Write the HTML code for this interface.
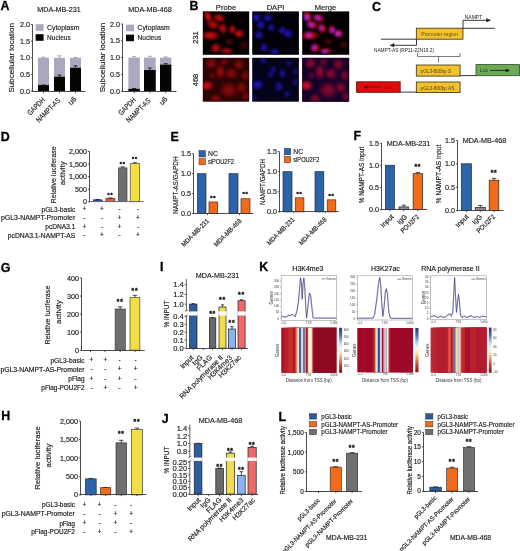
<!DOCTYPE html>
<html><head><meta charset="utf-8"><title>Figure</title>
<style>html,body{margin:0;padding:0;background:#fff;} svg{display:block;}</style></head>
<body><svg width="520" height="551" viewBox="0 0 520 551" font-family="'Liberation Sans', Arial, sans-serif"><text x="0.6" y="10.2" font-size="12.4" font-weight="bold" fill="#000" stroke="#000" stroke-width="0.3">A</text>
<text x="59" y="12" font-size="7.2" text-anchor="middle" fill="#222" stroke="#222" stroke-width="0.16">MDA-MB-231</text>
<rect x="38" y="57.8" width="11" height="33.2" fill="#aaa7be"/>
<rect x="38" y="85.02" width="11" height="5.98" fill="#050505"/>
<line x1="43.5" y1="57.8" x2="43.5" y2="57.14" stroke="#888" stroke-width="0.7"/>
<line x1="41.5" y1="57.14" x2="45.5" y2="57.14" stroke="#888" stroke-width="0.7"/>
<line x1="43.5" y1="85.02" x2="43.5" y2="85.02" stroke="#111" stroke-width="0.8"/>
<line x1="41.5" y1="85.02" x2="45.5" y2="85.02" stroke="#111" stroke-width="0.8"/>
<rect x="54" y="57.8" width="11" height="33.2" fill="#aaa7be"/>
<rect x="54" y="76.72" width="11" height="14.28" fill="#050505"/>
<line x1="59.5" y1="57.8" x2="59.5" y2="55.81" stroke="#888" stroke-width="0.7"/>
<line x1="57.5" y1="55.81" x2="61.5" y2="55.81" stroke="#888" stroke-width="0.7"/>
<line x1="59.5" y1="76.72" x2="59.5" y2="75.06" stroke="#111" stroke-width="0.8"/>
<line x1="57.5" y1="75.06" x2="61.5" y2="75.06" stroke="#111" stroke-width="0.8"/>
<rect x="70" y="57.8" width="11" height="33.2" fill="#aaa7be"/>
<rect x="70" y="67.76" width="11" height="23.24" fill="#050505"/>
<line x1="75.5" y1="57.8" x2="75.5" y2="57.47" stroke="#888" stroke-width="0.7"/>
<line x1="73.5" y1="57.47" x2="77.5" y2="57.47" stroke="#888" stroke-width="0.7"/>
<line x1="75.5" y1="67.76" x2="75.5" y2="65.77" stroke="#111" stroke-width="0.8"/>
<line x1="73.5" y1="65.77" x2="77.5" y2="65.77" stroke="#111" stroke-width="0.8"/>
<line x1="32.5" y1="24.6" x2="32.5" y2="91.45" stroke="#3a3a3a" stroke-width="0.9"/>
<line x1="30.9" y1="24.6" x2="32.5" y2="24.6" stroke="#3a3a3a" stroke-width="0.9"/>
<text x="29.9" y="27.19" font-size="7.2" text-anchor="end" fill="#222" stroke="#222" stroke-width="0.16">2.0</text>
<line x1="30.9" y1="41.2" x2="32.5" y2="41.2" stroke="#3a3a3a" stroke-width="0.9"/>
<text x="29.9" y="43.79" font-size="7.2" text-anchor="end" fill="#222" stroke="#222" stroke-width="0.16">1.5</text>
<line x1="30.9" y1="57.8" x2="32.5" y2="57.8" stroke="#3a3a3a" stroke-width="0.9"/>
<text x="29.9" y="60.39" font-size="7.2" text-anchor="end" fill="#222" stroke="#222" stroke-width="0.16">1.0</text>
<line x1="30.9" y1="74.4" x2="32.5" y2="74.4" stroke="#3a3a3a" stroke-width="0.9"/>
<text x="29.9" y="76.99" font-size="7.2" text-anchor="end" fill="#222" stroke="#222" stroke-width="0.16">0.5</text>
<line x1="30.9" y1="91" x2="32.5" y2="91" stroke="#3a3a3a" stroke-width="0.9"/>
<text x="29.9" y="93.59" font-size="7.2" text-anchor="end" fill="#222" stroke="#222" stroke-width="0.16">0.0</text>
<line x1="32.05" y1="91.5" x2="85.6" y2="91.5" stroke="#3a3a3a" stroke-width="0.9"/>
<line x1="43.5" y1="91.5" x2="43.5" y2="93.1" stroke="#3a3a3a" stroke-width="0.9"/>
<line x1="59.5" y1="91.5" x2="59.5" y2="93.1" stroke="#3a3a3a" stroke-width="0.9"/>
<line x1="75.5" y1="91.5" x2="75.5" y2="93.1" stroke="#3a3a3a" stroke-width="0.9"/>
<rect x="35.6" y="24.2" width="8" height="6.6" fill="#aaa7be"/>
<rect x="35.6" y="34.2" width="8" height="6.6" fill="#050505"/>
<text x="47.1" y="29.8" font-size="7.4" fill="#222" stroke="#222" stroke-width="0.16" textLength="32.3" lengthAdjust="spacingAndGlyphs">Cytoplasm</text>
<text x="47.1" y="39.8" font-size="7.4" fill="#222" stroke="#222" stroke-width="0.16" textLength="23.7" lengthAdjust="spacingAndGlyphs">Nucleus</text>
<text x="14.5" y="57.8" font-size="8" text-anchor="middle" fill="#222" stroke="#222" stroke-width="0.16" transform="rotate(-90 14.5 57.8)">Subcellular location</text>
<text x="45.5" y="100.5" font-size="7.4" text-anchor="end" fill="#222" stroke="#222" stroke-width="0.16" transform="rotate(-45 45.5 100.5)" textLength="21.5" lengthAdjust="spacingAndGlyphs">GAPDH</text>
<text x="60.8" y="101" font-size="7.4" text-anchor="end" fill="#222" stroke="#222" stroke-width="0.16" transform="rotate(-45 60.8 101)" textLength="31" lengthAdjust="spacingAndGlyphs">NAMPT-AS</text>
<text x="76.8" y="99.6" font-size="7.4" text-anchor="end" fill="#222" stroke="#222" stroke-width="0.16" transform="rotate(-45 76.8 99.6)">u6</text>
<text x="150" y="12" font-size="7.2" text-anchor="middle" fill="#222" stroke="#222" stroke-width="0.16">MDA-MB-468</text>
<rect x="128.4" y="57.6" width="11.4" height="33.6" fill="#aaa7be"/>
<rect x="128.4" y="88.85" width="11.4" height="2.35" fill="#050505"/>
<line x1="134.1" y1="57.6" x2="134.1" y2="56.59" stroke="#888" stroke-width="0.7"/>
<line x1="132.1" y1="56.59" x2="136.1" y2="56.59" stroke="#888" stroke-width="0.7"/>
<line x1="134.1" y1="88.85" x2="134.1" y2="88.51" stroke="#111" stroke-width="0.8"/>
<line x1="132.1" y1="88.51" x2="136.1" y2="88.51" stroke="#111" stroke-width="0.8"/>
<rect x="144" y="57.6" width="11.7" height="33.6" fill="#aaa7be"/>
<rect x="144" y="70.03" width="11.7" height="21.17" fill="#050505"/>
<line x1="149.85" y1="57.6" x2="149.85" y2="56.26" stroke="#888" stroke-width="0.7"/>
<line x1="147.85" y1="56.26" x2="151.85" y2="56.26" stroke="#888" stroke-width="0.7"/>
<line x1="149.85" y1="70.03" x2="149.85" y2="68.02" stroke="#111" stroke-width="0.8"/>
<line x1="147.85" y1="68.02" x2="151.85" y2="68.02" stroke="#111" stroke-width="0.8"/>
<rect x="160" y="57.6" width="11.3" height="33.6" fill="#aaa7be"/>
<rect x="160" y="64.66" width="11.3" height="26.54" fill="#050505"/>
<line x1="165.65" y1="57.6" x2="165.65" y2="56.93" stroke="#888" stroke-width="0.7"/>
<line x1="163.65" y1="56.93" x2="167.65" y2="56.93" stroke="#888" stroke-width="0.7"/>
<line x1="165.65" y1="64.66" x2="165.65" y2="63.65" stroke="#111" stroke-width="0.8"/>
<line x1="163.65" y1="63.65" x2="167.65" y2="63.65" stroke="#111" stroke-width="0.8"/>
<line x1="122.5" y1="24" x2="122.5" y2="91.65" stroke="#3a3a3a" stroke-width="0.9"/>
<line x1="120.9" y1="24" x2="122.5" y2="24" stroke="#3a3a3a" stroke-width="0.9"/>
<text x="119.9" y="26.59" font-size="7.2" text-anchor="end" fill="#222" stroke="#222" stroke-width="0.16">2.0</text>
<line x1="120.9" y1="40.8" x2="122.5" y2="40.8" stroke="#3a3a3a" stroke-width="0.9"/>
<text x="119.9" y="43.39" font-size="7.2" text-anchor="end" fill="#222" stroke="#222" stroke-width="0.16">1.5</text>
<line x1="120.9" y1="57.6" x2="122.5" y2="57.6" stroke="#3a3a3a" stroke-width="0.9"/>
<text x="119.9" y="60.19" font-size="7.2" text-anchor="end" fill="#222" stroke="#222" stroke-width="0.16">1.0</text>
<line x1="120.9" y1="74.4" x2="122.5" y2="74.4" stroke="#3a3a3a" stroke-width="0.9"/>
<text x="119.9" y="76.99" font-size="7.2" text-anchor="end" fill="#222" stroke="#222" stroke-width="0.16">0.5</text>
<line x1="120.9" y1="91.2" x2="122.5" y2="91.2" stroke="#3a3a3a" stroke-width="0.9"/>
<text x="119.9" y="93.79" font-size="7.2" text-anchor="end" fill="#222" stroke="#222" stroke-width="0.16">0.0</text>
<line x1="122.05" y1="91.5" x2="176.5" y2="91.5" stroke="#3a3a3a" stroke-width="0.9"/>
<line x1="134.1" y1="91.5" x2="134.1" y2="93.1" stroke="#3a3a3a" stroke-width="0.9"/>
<line x1="149.85" y1="91.5" x2="149.85" y2="93.1" stroke="#3a3a3a" stroke-width="0.9"/>
<line x1="165.65" y1="91.5" x2="165.65" y2="93.1" stroke="#3a3a3a" stroke-width="0.9"/>
<rect x="126" y="24.6" width="8" height="6.6" fill="#aaa7be"/>
<rect x="126" y="34.6" width="8" height="6.6" fill="#050505"/>
<text x="137.5" y="30.2" font-size="7.4" fill="#222" stroke="#222" stroke-width="0.16" textLength="32.3" lengthAdjust="spacingAndGlyphs">Cytoplasm</text>
<text x="137.5" y="40.2" font-size="7.4" fill="#222" stroke="#222" stroke-width="0.16" textLength="23.7" lengthAdjust="spacingAndGlyphs">Nucleus</text>
<text x="105" y="57.6" font-size="8" text-anchor="middle" fill="#222" stroke="#222" stroke-width="0.16" transform="rotate(-90 105 57.6)">Subcellular location</text>
<text x="136.4" y="100.5" font-size="7.4" text-anchor="end" fill="#222" stroke="#222" stroke-width="0.16" transform="rotate(-45 136.4 100.5)" textLength="21.5" lengthAdjust="spacingAndGlyphs">GAPDH</text>
<text x="151" y="101.2" font-size="7.4" text-anchor="end" fill="#222" stroke="#222" stroke-width="0.16" transform="rotate(-45 151 101.2)" textLength="31" lengthAdjust="spacingAndGlyphs">NAMPT-AS</text>
<text x="168" y="99.6" font-size="7.4" text-anchor="end" fill="#222" stroke="#222" stroke-width="0.16" transform="rotate(-45 168 99.6)">u6</text>
<text x="189.4" y="10.4" font-size="12.4" font-weight="bold" fill="#000" stroke="#000" stroke-width="0.3">B</text>
<text x="226" y="9.6" font-size="7.6" text-anchor="middle" fill="#222" stroke="#222" stroke-width="0.16">Probe</text>
<text x="275.5" y="9.6" font-size="7.6" text-anchor="middle" fill="#222" stroke="#222" stroke-width="0.16">DAPI</text>
<text x="325.5" y="9.6" font-size="7.6" text-anchor="middle" fill="#222" stroke="#222" stroke-width="0.16">Merge</text>
<text x="198.2" y="37.5" font-size="7.6" text-anchor="middle" fill="#222" stroke="#222" stroke-width="0.16" transform="rotate(-90 198.2 37.5)">231</text>
<text x="198.2" y="80" font-size="7.6" text-anchor="middle" fill="#222" stroke="#222" stroke-width="0.16" transform="rotate(-90 198.2 80)">468</text>
<defs>
<radialGradient id="gR"><stop offset="0" stop-color="rgb(205,18,18)" stop-opacity="1"/><stop offset="0.45" stop-color="rgb(175,10,12)" stop-opacity="0.8"/><stop offset="1" stop-color="rgb(110,0,0)" stop-opacity="0"/></radialGradient>
<radialGradient id="gB"><stop offset="0" stop-color="rgb(38,28,195)" stop-opacity="1"/><stop offset="0.45" stop-color="rgb(28,18,165)" stop-opacity="0.75"/><stop offset="1" stop-color="rgb(10,0,100)" stop-opacity="0"/></radialGradient>
<clipPath id="cB0"><rect x="202.8" y="11.4" width="46.4" height="43.4"/></clipPath>
<clipPath id="cB1"><rect x="202.8" y="57.8" width="46.4" height="43.9"/></clipPath>
</defs>
<rect x="202.8" y="11.4" width="46.4" height="43.4" fill="#050000"/>
<g clip-path="url(#cB0)"><ellipse cx="208" cy="16.5" rx="5.04" ry="9" fill="url(#gR)" opacity="1.0" transform="rotate(-20 208 16.5)"/><ellipse cx="219" cy="18" rx="8.1" ry="5.4" fill="url(#gR)" opacity="0.9" transform="rotate(15 219 18)"/><ellipse cx="213" cy="24.8" rx="8.1" ry="5.76" fill="url(#gR)" opacity="0.9" transform="rotate(10 213 24.8)"/><ellipse cx="222.8" cy="28.5" rx="5.76" ry="7.2" fill="url(#gR)" opacity="0.85" transform="rotate(-20 222.8 28.5)"/><ellipse cx="210.3" cy="35.5" rx="11.7" ry="5.94" fill="url(#gR)" opacity="1.0"/><ellipse cx="232.5" cy="29.5" rx="5.04" ry="6.12" fill="url(#gR)" opacity="0.85"/><ellipse cx="239" cy="33.6" rx="6.12" ry="5.4" fill="url(#gR)" opacity="1.0"/><ellipse cx="215.8" cy="48" rx="6.84" ry="6.12" fill="url(#gR)" opacity="0.9" transform="rotate(-30 215.8 48)"/><ellipse cx="226.5" cy="50.7" rx="8.1" ry="4.5" fill="url(#gR)" opacity="0.8"/><ellipse cx="228.8" cy="41.5" rx="5.4" ry="4.5" fill="url(#gR)" opacity="0.35"/><ellipse cx="244" cy="45" rx="5.4" ry="5.4" fill="url(#gR)" opacity="0.3"/></g>
<rect x="252.2" y="11.4" width="46.7" height="43.4" fill="#020008"/>
<g clip-path="url(#cB0)" transform="translate(49.4 0)"><ellipse cx="206.8" cy="17.5" rx="6.65" ry="6.12" fill="url(#gB)" opacity="0.9"/><ellipse cx="218.3" cy="17.9" rx="7.35" ry="5.25" fill="url(#gB)" opacity="0.85"/><ellipse cx="211.4" cy="24.9" rx="6.65" ry="6.12" fill="url(#gB)" opacity="0.85"/><ellipse cx="222" cy="27.6" rx="5.6" ry="5.6" fill="url(#gB)" opacity="0.75"/><ellipse cx="233.1" cy="30.4" rx="5.95" ry="5.6" fill="url(#gB)" opacity="0.85"/><ellipse cx="238.6" cy="33.6" rx="6.65" ry="5.95" fill="url(#gB)" opacity="0.9"/><ellipse cx="209.5" cy="35" rx="6.65" ry="6.3" fill="url(#gB)" opacity="0.8"/><ellipse cx="214.6" cy="47.5" rx="5.6" ry="6.3" fill="url(#gB)" opacity="0.85"/><ellipse cx="225.2" cy="51.6" rx="7.35" ry="4.55" fill="url(#gB)" opacity="0.8"/></g>
<rect x="302.2" y="11.4" width="47" height="43.4" fill="#050000"/>
<g clip-path="url(#cB0)" transform="translate(99.4 0)" style="isolation:isolate"><ellipse cx="208" cy="16.5" rx="5.04" ry="9" fill="url(#gR)" opacity="1.0" transform="rotate(-20 208 16.5)"/><ellipse cx="219" cy="18" rx="8.1" ry="5.4" fill="url(#gR)" opacity="0.9" transform="rotate(15 219 18)"/><ellipse cx="213" cy="24.8" rx="8.1" ry="5.76" fill="url(#gR)" opacity="0.9" transform="rotate(10 213 24.8)"/><ellipse cx="222.8" cy="28.5" rx="5.76" ry="7.2" fill="url(#gR)" opacity="0.85" transform="rotate(-20 222.8 28.5)"/><ellipse cx="210.3" cy="35.5" rx="11.7" ry="5.94" fill="url(#gR)" opacity="1.0"/><ellipse cx="232.5" cy="29.5" rx="5.04" ry="6.12" fill="url(#gR)" opacity="0.85"/><ellipse cx="239" cy="33.6" rx="6.12" ry="5.4" fill="url(#gR)" opacity="1.0"/><ellipse cx="215.8" cy="48" rx="6.84" ry="6.12" fill="url(#gR)" opacity="0.9" transform="rotate(-30 215.8 48)"/><ellipse cx="226.5" cy="50.7" rx="8.1" ry="4.5" fill="url(#gR)" opacity="0.8"/><ellipse cx="228.8" cy="41.5" rx="5.4" ry="4.5" fill="url(#gR)" opacity="0.35"/><ellipse cx="244" cy="45" rx="5.4" ry="5.4" fill="url(#gR)" opacity="0.3"/><g style="mix-blend-mode:screen"><ellipse cx="206.8" cy="17.5" rx="5.98" ry="5.51" fill="url(#gB)" opacity="0.9"/><ellipse cx="218.3" cy="17.9" rx="6.62" ry="4.72" fill="url(#gB)" opacity="0.85"/><ellipse cx="211.4" cy="24.9" rx="5.98" ry="5.51" fill="url(#gB)" opacity="0.85"/><ellipse cx="222" cy="27.6" rx="5.04" ry="5.04" fill="url(#gB)" opacity="0.75"/><ellipse cx="233.1" cy="30.4" rx="5.35" ry="5.04" fill="url(#gB)" opacity="0.85"/><ellipse cx="238.6" cy="33.6" rx="5.98" ry="5.35" fill="url(#gB)" opacity="0.9"/><ellipse cx="209.5" cy="35" rx="5.98" ry="5.67" fill="url(#gB)" opacity="0.8"/><ellipse cx="214.6" cy="47.5" rx="5.04" ry="5.67" fill="url(#gB)" opacity="0.85"/><ellipse cx="225.2" cy="51.6" rx="6.62" ry="4.09" fill="url(#gB)" opacity="0.8"/></g></g>
<rect x="202.8" y="57.8" width="46.4" height="43.9" fill="#2a0303"/>
<g clip-path="url(#cB1)"><ellipse cx="211.2" cy="63.5" rx="7.25" ry="7.25" fill="url(#gR)" opacity="0.6"/><ellipse cx="220.5" cy="71.8" rx="6.52" ry="9.42" fill="url(#gR)" opacity="0.65"/><ellipse cx="231.5" cy="73.6" rx="7.97" ry="7.25" fill="url(#gR)" opacity="0.6"/><ellipse cx="239" cy="64.4" rx="7.25" ry="7.25" fill="url(#gR)" opacity="0.55"/><ellipse cx="245.4" cy="75.5" rx="5.8" ry="7.25" fill="url(#gR)" opacity="0.5"/><ellipse cx="207" cy="85.6" rx="7.97" ry="6.52" fill="url(#gR)" opacity="1.0"/><ellipse cx="228.8" cy="90.2" rx="11.6" ry="10.15" fill="url(#gR)" opacity="0.6"/><ellipse cx="215.8" cy="98.5" rx="7.25" ry="5.8" fill="url(#gR)" opacity="0.55"/><ellipse cx="241.7" cy="87.5" rx="7.25" ry="7.25" fill="url(#gR)" opacity="0.55"/><ellipse cx="212.2" cy="75.5" rx="5.08" ry="5.08" fill="url(#gR)" opacity="0.35"/><ellipse cx="224" cy="62" rx="5.8" ry="4.35" fill="url(#gR)" opacity="0.45"/><ellipse cx="246" cy="96" rx="5.8" ry="5.8" fill="url(#gR)" opacity="0.45"/></g>
<rect x="252.2" y="57.8" width="46.7" height="43.9" fill="#05031a"/>
<g clip-path="url(#cB1)" transform="translate(49.4 0)"><ellipse cx="214.1" cy="60.7" rx="5.25" ry="4.5" fill="url(#gB)" opacity="0.6"/><ellipse cx="223.8" cy="69.9" rx="4.5" ry="5.25" fill="url(#gB)" opacity="0.6"/><ellipse cx="221.1" cy="74.5" rx="4.8" ry="4.8" fill="url(#gB)" opacity="0.55"/><ellipse cx="233.1" cy="73.6" rx="4.8" ry="6.3" fill="url(#gB)" opacity="0.7"/><ellipse cx="239.6" cy="63.5" rx="5.25" ry="4.5" fill="url(#gB)" opacity="0.5"/><ellipse cx="246" cy="71.8" rx="4.8" ry="4.8" fill="url(#gB)" opacity="0.5"/><ellipse cx="208.1" cy="84.7" rx="8.25" ry="6.75" fill="url(#gB)" opacity="0.95"/><ellipse cx="229.4" cy="86.5" rx="6.3" ry="6.75" fill="url(#gB)" opacity="0.7"/><ellipse cx="246" cy="82" rx="5.25" ry="5.25" fill="url(#gB)" opacity="0.55"/><ellipse cx="237.6" cy="94" rx="5.25" ry="4.8" fill="url(#gB)" opacity="0.6"/><ellipse cx="205.4" cy="97.6" rx="3.75" ry="3.75" fill="url(#gB)" opacity="0.4"/></g>
<rect x="302.2" y="57.8" width="47" height="43.9" fill="#2a0318"/>
<g clip-path="url(#cB1)" transform="translate(99.4 0)" style="isolation:isolate"><ellipse cx="211.2" cy="63.5" rx="7.25" ry="7.25" fill="url(#gR)" opacity="0.6"/><ellipse cx="220.5" cy="71.8" rx="6.52" ry="9.42" fill="url(#gR)" opacity="0.65"/><ellipse cx="231.5" cy="73.6" rx="7.97" ry="7.25" fill="url(#gR)" opacity="0.6"/><ellipse cx="239" cy="64.4" rx="7.25" ry="7.25" fill="url(#gR)" opacity="0.55"/><ellipse cx="245.4" cy="75.5" rx="5.8" ry="7.25" fill="url(#gR)" opacity="0.5"/><ellipse cx="207" cy="85.6" rx="7.97" ry="6.52" fill="url(#gR)" opacity="1.0"/><ellipse cx="228.8" cy="90.2" rx="11.6" ry="10.15" fill="url(#gR)" opacity="0.6"/><ellipse cx="215.8" cy="98.5" rx="7.25" ry="5.8" fill="url(#gR)" opacity="0.55"/><ellipse cx="241.7" cy="87.5" rx="7.25" ry="7.25" fill="url(#gR)" opacity="0.55"/><ellipse cx="212.2" cy="75.5" rx="5.08" ry="5.08" fill="url(#gR)" opacity="0.35"/><ellipse cx="224" cy="62" rx="5.8" ry="4.35" fill="url(#gR)" opacity="0.45"/><ellipse cx="246" cy="96" rx="5.8" ry="5.8" fill="url(#gR)" opacity="0.45"/><g style="mix-blend-mode:screen"><ellipse cx="214.1" cy="60.7" rx="4.73" ry="4.05" fill="url(#gB)" opacity="0.6"/><ellipse cx="223.8" cy="69.9" rx="4.05" ry="4.73" fill="url(#gB)" opacity="0.6"/><ellipse cx="221.1" cy="74.5" rx="4.32" ry="4.32" fill="url(#gB)" opacity="0.55"/><ellipse cx="233.1" cy="73.6" rx="4.32" ry="5.67" fill="url(#gB)" opacity="0.7"/><ellipse cx="239.6" cy="63.5" rx="4.73" ry="4.05" fill="url(#gB)" opacity="0.5"/><ellipse cx="246" cy="71.8" rx="4.32" ry="4.32" fill="url(#gB)" opacity="0.5"/><ellipse cx="208.1" cy="84.7" rx="7.43" ry="6.08" fill="url(#gB)" opacity="0.95"/><ellipse cx="229.4" cy="86.5" rx="5.67" ry="6.08" fill="url(#gB)" opacity="0.7"/><ellipse cx="246" cy="82" rx="4.73" ry="4.73" fill="url(#gB)" opacity="0.55"/><ellipse cx="237.6" cy="94" rx="4.73" ry="4.32" fill="url(#gB)" opacity="0.6"/><ellipse cx="205.4" cy="97.6" rx="3.38" ry="3.38" fill="url(#gB)" opacity="0.4"/><rect x="202.8" y="57.8" width="47" height="45" fill="rgb(22,0,40)"/></g></g>
<text x="372" y="10.5" font-size="12.4" font-weight="bold" fill="#000" stroke="#000" stroke-width="0.3">C</text>
<line x1="381" y1="39.2" x2="416.3" y2="39.2" stroke="#222" stroke-width="0.9"/>
<line x1="463" y1="28.3" x2="494.7" y2="28.3" stroke="#222" stroke-width="0.9"/>
<rect x="416.3" y="28.2" width="46.7" height="11" fill="#f2c12e" stroke="#3a3010" stroke-width="0.8"/>
<text x="439.7" y="36.2" font-size="6.2" text-anchor="middle" fill="#6a5218" textLength="37" lengthAdjust="spacingAndGlyphs">Promoter region</text>
<path d="M463 28.3 V20.3 H487.5" stroke="#222" stroke-width="0.9" fill="none"/>
<path d="M486.5 18.6 L490.5 20.3 L486.5 22 Z" stroke="#222" stroke-width="0.5" fill="#222"/>
<text x="464.7" y="18.5" font-size="5.6" fill="#222" textLength="17.5" lengthAdjust="spacingAndGlyphs">NAMPT</text>
<path d="M416.5 39.2 V45.3 H393" stroke="#222" stroke-width="0.9" fill="none"/>
<path d="M394 43.6 L390 45.3 L394 47 Z" stroke="#222" stroke-width="0.5" fill="#222"/>
<text x="374" y="52.4" font-size="5.4" fill="#222" textLength="60" lengthAdjust="spacingAndGlyphs">NAMPT-AS (RP11-22N19.2)</text>
<path d="M417.5 53 V56.5 H460 V53" stroke="#444" stroke-width="0.7" fill="none"/>
<line x1="438.5" y1="56.5" x2="438.5" y2="62.5" stroke="#444" stroke-width="0.7"/>
<rect x="416.3" y="65" width="43.8" height="11.1" fill="#f2c12e" stroke="#3a3010" stroke-width="0.8"/>
<text x="420.6" y="72.6" font-size="5.4" fill="#5a4310" textLength="30.5" lengthAdjust="spacingAndGlyphs">pGL3-800bp S</text>
<line x1="460.1" y1="75.6" x2="476" y2="75.6" stroke="#222" stroke-width="0.9"/>
<rect x="476" y="64.6" width="43.6" height="11.1" fill="#6aaa55" stroke="#2d4a25" stroke-width="0.8"/>
<text x="479.8" y="72.3" font-size="5.2" fill="#2a3a20">Luc</text>
<line x1="490" y1="70.4" x2="507" y2="70.4" stroke="#111" stroke-width="0.8"/>
<path d="M506 68.9 L509.5 70.4 L506 71.9 Z" stroke="#111" stroke-width="0.4" fill="#111"/>
<rect x="416.3" y="82" width="43.8" height="10.6" fill="#f2c12e" stroke="#3a3010" stroke-width="0.8"/>
<text x="420.6" y="89.6" font-size="5.4" fill="#5a4310" textLength="33.8" lengthAdjust="spacingAndGlyphs">pGL3-800bp AS</text>
<line x1="400.2" y1="92.1" x2="416.3" y2="92.1" stroke="#222" stroke-width="0.9"/>
<rect x="356.6" y="81.8" width="43.6" height="10.5" fill="#e20a0a" stroke="#5a0a0a" stroke-width="0.8"/>
<line x1="366" y1="87" x2="381" y2="87" stroke="#7a0000" stroke-width="0.8"/>
<path d="M367 85.6 L363.5 87 L367 88.4 Z" stroke="#600" stroke-width="0.4" fill="#600"/>
<text x="0" y="0" font-size="5.2" fill="#9a0000" transform="translate(392.5 89.2) scale(-1 1)">Luc</text>
<text x="0.8" y="140.5" font-size="12.4" font-weight="bold" fill="#000" stroke="#000" stroke-width="0.3">D</text>
<rect x="93.2" y="199.79" width="9" height="2.01" fill="#2b4c86" stroke="#333" stroke-width="0.6"/>
<line x1="97.7" y1="199.79" x2="97.7" y2="199.54" stroke="#222" stroke-width="0.8"/>
<line x1="95.67" y1="199.54" x2="99.73" y2="199.54" stroke="#222" stroke-width="0.8"/>
<rect x="105.9" y="198.28" width="9" height="3.52" fill="#e85b24" stroke="#333" stroke-width="0.6"/>
<line x1="110.4" y1="198.28" x2="110.4" y2="197.9" stroke="#222" stroke-width="0.8"/>
<line x1="108.38" y1="197.9" x2="112.43" y2="197.9" stroke="#222" stroke-width="0.8"/>
<text x="110.4" y="196.6" font-size="5.28" text-anchor="middle" font-weight="bold" fill="#1a1a1a" stroke="#1a1a1a" stroke-width="0.4" letter-spacing="0.8">**</text>
<rect x="118.4" y="167.85" width="8.6" height="33.95" fill="#6e6e6e" stroke="#333" stroke-width="0.6"/>
<line x1="122.7" y1="167.85" x2="122.7" y2="166.84" stroke="#222" stroke-width="0.8"/>
<line x1="120.77" y1="166.84" x2="124.64" y2="166.84" stroke="#222" stroke-width="0.8"/>
<text x="122.7" y="165.54" font-size="5.28" text-anchor="middle" font-weight="bold" fill="#1a1a1a" stroke="#1a1a1a" stroke-width="0.4" letter-spacing="0.8">**</text>
<rect x="130.2" y="163.7" width="9.5" height="38.1" fill="#f3df45" stroke="#333" stroke-width="0.6"/>
<line x1="134.95" y1="163.7" x2="134.95" y2="162.69" stroke="#222" stroke-width="0.8"/>
<line x1="132.81" y1="162.69" x2="137.09" y2="162.69" stroke="#222" stroke-width="0.8"/>
<text x="134.95" y="161.39" font-size="5.28" text-anchor="middle" font-weight="bold" fill="#1a1a1a" stroke="#1a1a1a" stroke-width="0.4" letter-spacing="0.8">**</text>
<line x1="89.5" y1="151.5" x2="89.5" y2="202.25" stroke="#3a3a3a" stroke-width="0.9"/>
<line x1="87.9" y1="151.5" x2="89.5" y2="151.5" stroke="#3a3a3a" stroke-width="0.9"/>
<text x="86.9" y="154.09" font-size="7.2" text-anchor="end" fill="#222" stroke="#222" stroke-width="0.16">2,000</text>
<line x1="87.9" y1="164.07" x2="89.5" y2="164.07" stroke="#3a3a3a" stroke-width="0.9"/>
<text x="86.9" y="166.67" font-size="7.2" text-anchor="end" fill="#222" stroke="#222" stroke-width="0.16">1,500</text>
<line x1="87.9" y1="176.65" x2="89.5" y2="176.65" stroke="#3a3a3a" stroke-width="0.9"/>
<text x="86.9" y="179.24" font-size="7.2" text-anchor="end" fill="#222" stroke="#222" stroke-width="0.16">1,000</text>
<line x1="87.9" y1="189.23" x2="89.5" y2="189.23" stroke="#3a3a3a" stroke-width="0.9"/>
<text x="86.9" y="191.82" font-size="7.2" text-anchor="end" fill="#222" stroke="#222" stroke-width="0.16">500</text>
<line x1="87.9" y1="201.8" x2="89.5" y2="201.8" stroke="#3a3a3a" stroke-width="0.9"/>
<text x="86.9" y="204.39" font-size="7.2" text-anchor="end" fill="#222" stroke="#222" stroke-width="0.16">0</text>
<line x1="89.05" y1="201.5" x2="143.5" y2="201.5" stroke="#6a6a8a" stroke-width="1"/>
<text x="56.5" y="174.8" font-size="7.8" text-anchor="middle" fill="#222" stroke="#222" stroke-width="0.16" transform="rotate(-90 56.5 174.8)" textLength="57" lengthAdjust="spacingAndGlyphs">Relative luciferase</text>
<text x="65" y="173.3" font-size="7.8" text-anchor="middle" fill="#222" stroke="#222" stroke-width="0.16" transform="rotate(-90 65 173.3)">activity</text>
<text x="75.3" y="211.7" font-size="6.6" text-anchor="end" fill="#1a1a1a" stroke="#1a1a1a" stroke-width="0.16" textLength="33.8" lengthAdjust="spacingAndGlyphs">pGL3-basic</text>
<text x="84.3" y="211.1" font-size="6.5" text-anchor="middle" fill="#222" stroke="#222" stroke-width="0.16">+</text>
<text x="102" y="211.1" font-size="6.5" text-anchor="middle" fill="#222" stroke="#222" stroke-width="0.16">+</text>
<text x="119.5" y="211.1" font-size="6.5" text-anchor="middle" fill="#222" stroke="#222" stroke-width="0.16">-</text>
<text x="138" y="211.1" font-size="6.5" text-anchor="middle" fill="#222" stroke="#222" stroke-width="0.16">-</text>
<text x="75.3" y="220.4" font-size="6.6" text-anchor="end" fill="#1a1a1a" stroke="#1a1a1a" stroke-width="0.16" textLength="74.4" lengthAdjust="spacingAndGlyphs">pGL3-NAMPT-Promoter</text>
<text x="84.3" y="219.8" font-size="6.5" text-anchor="middle" fill="#222" stroke="#222" stroke-width="0.16">-</text>
<text x="102" y="219.8" font-size="6.5" text-anchor="middle" fill="#222" stroke="#222" stroke-width="0.16">-</text>
<text x="119.5" y="219.8" font-size="6.5" text-anchor="middle" fill="#222" stroke="#222" stroke-width="0.16">+</text>
<text x="138" y="219.8" font-size="6.5" text-anchor="middle" fill="#222" stroke="#222" stroke-width="0.16">+</text>
<text x="75.3" y="229.3" font-size="6.6" text-anchor="end" fill="#1a1a1a" stroke="#1a1a1a" stroke-width="0.16" textLength="30" lengthAdjust="spacingAndGlyphs">pcDNA3.1</text>
<text x="84.3" y="228.7" font-size="6.5" text-anchor="middle" fill="#222" stroke="#222" stroke-width="0.16">+</text>
<text x="102" y="228.7" font-size="6.5" text-anchor="middle" fill="#222" stroke="#222" stroke-width="0.16">-</text>
<text x="119.5" y="228.7" font-size="6.5" text-anchor="middle" fill="#222" stroke="#222" stroke-width="0.16">+</text>
<text x="138" y="228.7" font-size="6.5" text-anchor="middle" fill="#222" stroke="#222" stroke-width="0.16">-</text>
<text x="75.3" y="237.6" font-size="6.6" text-anchor="end" fill="#1a1a1a" stroke="#1a1a1a" stroke-width="0.16" textLength="67.5" lengthAdjust="spacingAndGlyphs">pcDNA3.1-NAMPT-AS</text>
<text x="84.3" y="237" font-size="6.5" text-anchor="middle" fill="#222" stroke="#222" stroke-width="0.16">-</text>
<text x="102" y="237" font-size="6.5" text-anchor="middle" fill="#222" stroke="#222" stroke-width="0.16">+</text>
<text x="119.5" y="237" font-size="6.5" text-anchor="middle" fill="#222" stroke="#222" stroke-width="0.16">-</text>
<text x="138" y="237" font-size="6.5" text-anchor="middle" fill="#222" stroke="#222" stroke-width="0.16">+</text>
<text x="170.4" y="141" font-size="12.4" font-weight="bold" fill="#000" stroke="#000" stroke-width="0.3">E</text>
<rect x="197.5" y="173.7" width="8.5" height="39.8" fill="#2c64aa" stroke="#1c2a44" stroke-width="0.7"/>
<rect x="209" y="201.96" width="8.7" height="11.54" fill="#f26a1c" stroke="#5a2a10" stroke-width="0.7"/>
<text x="213.35" y="199.66" font-size="5.83" text-anchor="middle" font-weight="bold" fill="#1a1a1a" stroke="#1a1a1a" stroke-width="0.4" letter-spacing="0.8">**</text>
<rect x="229" y="173.7" width="9" height="39.8" fill="#2c64aa" stroke="#1c2a44" stroke-width="0.7"/>
<rect x="241" y="198.77" width="9" height="14.73" fill="#f26a1c" stroke="#5a2a10" stroke-width="0.7"/>
<text x="245.5" y="196.47" font-size="5.83" text-anchor="middle" font-weight="bold" fill="#1a1a1a" stroke="#1a1a1a" stroke-width="0.4" letter-spacing="0.8">**</text>
<line x1="193.5" y1="153.8" x2="193.5" y2="213.95" stroke="#3a3a3a" stroke-width="0.9"/>
<line x1="191.9" y1="153.8" x2="193.5" y2="153.8" stroke="#3a3a3a" stroke-width="0.9"/>
<text x="190.9" y="156.39" font-size="7.2" text-anchor="end" fill="#222" stroke="#222" stroke-width="0.16">1.5</text>
<line x1="191.9" y1="173.7" x2="193.5" y2="173.7" stroke="#3a3a3a" stroke-width="0.9"/>
<text x="190.9" y="176.29" font-size="7.2" text-anchor="end" fill="#222" stroke="#222" stroke-width="0.16">1.0</text>
<line x1="191.9" y1="193.6" x2="193.5" y2="193.6" stroke="#3a3a3a" stroke-width="0.9"/>
<text x="190.9" y="196.19" font-size="7.2" text-anchor="end" fill="#222" stroke="#222" stroke-width="0.16">0.5</text>
<line x1="191.9" y1="213.5" x2="193.5" y2="213.5" stroke="#3a3a3a" stroke-width="0.9"/>
<text x="190.9" y="216.09" font-size="7.2" text-anchor="end" fill="#222" stroke="#222" stroke-width="0.16">0.0</text>
<line x1="193.05" y1="213.5" x2="253.3" y2="213.5" stroke="#3a3a3a" stroke-width="0.9"/>
<line x1="207.5" y1="213.5" x2="207.5" y2="215.1" stroke="#3a3a3a" stroke-width="0.9"/>
<line x1="239.5" y1="213.5" x2="239.5" y2="215.1" stroke="#3a3a3a" stroke-width="0.9"/>
<rect x="199" y="150.6" width="6.4" height="6.4" fill="#2c64aa" stroke="#1c2a44" stroke-width="0.5"/>
<rect x="199" y="158.6" width="6.4" height="6.2" fill="#f26a1c" stroke="#5a2a10" stroke-width="0.5"/>
<text x="208" y="156.2" font-size="6.8" fill="#222" stroke="#222" stroke-width="0.16">NC</text>
<text x="208" y="164" font-size="6.8" fill="#222" stroke="#222" stroke-width="0.16" textLength="26" lengthAdjust="spacingAndGlyphs">siPOU2F2</text>
<text x="178.5" y="185.2" font-size="7.6" text-anchor="middle" fill="#222" stroke="#222" stroke-width="0.16" transform="rotate(-90 178.5 185.2)" textLength="57.5" lengthAdjust="spacingAndGlyphs">NAMPT-AS/GAPDH</text>
<text x="209.5" y="221.5" font-size="6.6" text-anchor="end" fill="#222" stroke="#222" stroke-width="0.16" transform="rotate(-45 209.5 221.5)" textLength="36" lengthAdjust="spacingAndGlyphs">MDA-MB-231</text>
<text x="242" y="221.5" font-size="6.6" text-anchor="end" fill="#222" stroke="#222" stroke-width="0.16" transform="rotate(-45 242 221.5)" textLength="36" lengthAdjust="spacingAndGlyphs">MDA-MB-468</text>
<rect x="283" y="171.7" width="9" height="40.2" fill="#2c64aa" stroke="#1c2a44" stroke-width="0.7"/>
<rect x="295.3" y="197.83" width="8.6" height="14.07" fill="#f26a1c" stroke="#5a2a10" stroke-width="0.7"/>
<text x="299.6" y="195.53" font-size="5.83" text-anchor="middle" font-weight="bold" fill="#1a1a1a" stroke="#1a1a1a" stroke-width="0.4" letter-spacing="0.8">**</text>
<rect x="315" y="171.7" width="8.8" height="40.2" fill="#2c64aa" stroke="#1c2a44" stroke-width="0.7"/>
<rect x="327.2" y="199.84" width="8.6" height="12.06" fill="#f26a1c" stroke="#5a2a10" stroke-width="0.7"/>
<text x="331.5" y="197.54" font-size="5.83" text-anchor="middle" font-weight="bold" fill="#1a1a1a" stroke="#1a1a1a" stroke-width="0.4" letter-spacing="0.8">**</text>
<line x1="279.5" y1="151.6" x2="279.5" y2="212.35" stroke="#3a3a3a" stroke-width="0.9"/>
<line x1="277.9" y1="151.6" x2="279.5" y2="151.6" stroke="#3a3a3a" stroke-width="0.9"/>
<text x="276.9" y="154.19" font-size="7.2" text-anchor="end" fill="#222" stroke="#222" stroke-width="0.16">1.5</text>
<line x1="277.9" y1="171.7" x2="279.5" y2="171.7" stroke="#3a3a3a" stroke-width="0.9"/>
<text x="276.9" y="174.29" font-size="7.2" text-anchor="end" fill="#222" stroke="#222" stroke-width="0.16">1.0</text>
<line x1="277.9" y1="191.8" x2="279.5" y2="191.8" stroke="#3a3a3a" stroke-width="0.9"/>
<text x="276.9" y="194.39" font-size="7.2" text-anchor="end" fill="#222" stroke="#222" stroke-width="0.16">0.5</text>
<line x1="277.9" y1="211.9" x2="279.5" y2="211.9" stroke="#3a3a3a" stroke-width="0.9"/>
<text x="276.9" y="214.49" font-size="7.2" text-anchor="end" fill="#222" stroke="#222" stroke-width="0.16">0.0</text>
<line x1="279.05" y1="211.5" x2="338.8" y2="211.5" stroke="#3a3a3a" stroke-width="0.9"/>
<line x1="293.65" y1="211.5" x2="293.65" y2="213.1" stroke="#3a3a3a" stroke-width="0.9"/>
<line x1="325.5" y1="211.5" x2="325.5" y2="213.1" stroke="#3a3a3a" stroke-width="0.9"/>
<rect x="284.3" y="148.4" width="6.4" height="6.4" fill="#2c64aa" stroke="#1c2a44" stroke-width="0.5"/>
<rect x="284.3" y="156.4" width="6.4" height="6.2" fill="#f26a1c" stroke="#5a2a10" stroke-width="0.5"/>
<text x="293.3" y="154" font-size="6.8" fill="#222" stroke="#222" stroke-width="0.16">NC</text>
<text x="293.3" y="161.8" font-size="6.8" fill="#222" stroke="#222" stroke-width="0.16" textLength="26" lengthAdjust="spacingAndGlyphs">siPOU2F2</text>
<text x="264.5" y="182" font-size="7.6" text-anchor="middle" fill="#222" stroke="#222" stroke-width="0.16" transform="rotate(-90 264.5 182)" textLength="46" lengthAdjust="spacingAndGlyphs">NAMPT/GAPDH</text>
<text x="295" y="220" font-size="6.6" text-anchor="end" fill="#222" stroke="#222" stroke-width="0.16" transform="rotate(-45 295 220)" textLength="36" lengthAdjust="spacingAndGlyphs">MDA-MB-231</text>
<text x="327" y="220" font-size="6.6" text-anchor="end" fill="#222" stroke="#222" stroke-width="0.16" transform="rotate(-45 327 220)" textLength="36" lengthAdjust="spacingAndGlyphs">MDA-MB-468</text>
<text x="353.6" y="139.8" font-size="12.4" font-weight="bold" fill="#000" stroke="#000" stroke-width="0.3">F</text>
<rect x="385.4" y="165.27" width="9" height="44.33" fill="#2c64aa" stroke="#1c2a44" stroke-width="0.7"/>
<rect x="399" y="206.94" width="9.6" height="2.66" fill="#8a8a8a" stroke="#222" stroke-width="0.7"/>
<line x1="403.8" y1="206.94" x2="403.8" y2="205.17" stroke="#222" stroke-width="0.8"/>
<line x1="401.64" y1="205.17" x2="405.96" y2="205.17" stroke="#222" stroke-width="0.8"/>
<rect x="413.1" y="173.69" width="9.5" height="35.91" fill="#f26a1c" stroke="#222" stroke-width="0.7"/>
<line x1="417.85" y1="173.69" x2="417.85" y2="172.36" stroke="#222" stroke-width="0.8"/>
<line x1="415.71" y1="172.36" x2="419.99" y2="172.36" stroke="#222" stroke-width="0.8"/>
<text x="417.85" y="169.16" font-size="6.6" text-anchor="middle" font-weight="bold" fill="#1a1a1a" stroke="#1a1a1a" stroke-width="0.4" letter-spacing="0.8">**</text>
<line x1="381.5" y1="143.1" x2="381.5" y2="210.05" stroke="#3a3a3a" stroke-width="0.9"/>
<line x1="379.9" y1="143.1" x2="381.5" y2="143.1" stroke="#3a3a3a" stroke-width="0.9"/>
<text x="378.9" y="145.69" font-size="7.2" text-anchor="end" fill="#222" stroke="#222" stroke-width="0.16">1.5</text>
<line x1="379.9" y1="165.27" x2="381.5" y2="165.27" stroke="#3a3a3a" stroke-width="0.9"/>
<text x="378.9" y="167.86" font-size="7.2" text-anchor="end" fill="#222" stroke="#222" stroke-width="0.16">1.0</text>
<line x1="379.9" y1="187.43" x2="381.5" y2="187.43" stroke="#3a3a3a" stroke-width="0.9"/>
<text x="378.9" y="190.03" font-size="7.2" text-anchor="end" fill="#222" stroke="#222" stroke-width="0.16">0.5</text>
<line x1="379.9" y1="209.6" x2="381.5" y2="209.6" stroke="#3a3a3a" stroke-width="0.9"/>
<text x="378.9" y="212.19" font-size="7.2" text-anchor="end" fill="#222" stroke="#222" stroke-width="0.16">0.0</text>
<line x1="381.05" y1="209.5" x2="427.3" y2="209.5" stroke="#3a3a3a" stroke-width="0.9"/>
<line x1="389.9" y1="209.5" x2="389.9" y2="211.1" stroke="#3a3a3a" stroke-width="0.9"/>
<line x1="403.8" y1="209.5" x2="403.8" y2="211.1" stroke="#3a3a3a" stroke-width="0.9"/>
<line x1="417.85" y1="209.5" x2="417.85" y2="211.1" stroke="#3a3a3a" stroke-width="0.9"/>
<text x="386.8" y="145.7" font-size="7.2" fill="#222" stroke="#222" stroke-width="0.16">MDA-MB-231</text>
<text x="363.5" y="175" font-size="7.4" text-anchor="middle" fill="#222" stroke="#222" stroke-width="0.16" transform="rotate(-90 363.5 175)" textLength="56.5" lengthAdjust="spacingAndGlyphs">% NAMPT-AS input</text>
<text x="394" y="217.2" font-size="6.8" text-anchor="end" fill="#222" stroke="#222" stroke-width="0.16" transform="rotate(-45 394 217.2)">Input</text>
<text x="407.5" y="217.2" font-size="6.8" text-anchor="end" fill="#222" stroke="#222" stroke-width="0.16" transform="rotate(-45 407.5 217.2)">IgG</text>
<text x="419.5" y="217.2" font-size="6.8" text-anchor="end" fill="#222" stroke="#222" stroke-width="0.16" transform="rotate(-45 419.5 217.2)" textLength="23" lengthAdjust="spacingAndGlyphs">POU2F2</text>
<rect x="461.3" y="163.8" width="10.2" height="46.8" fill="#2c64aa" stroke="#1c2a44" stroke-width="0.7"/>
<rect x="475.2" y="207.32" width="10.2" height="3.28" fill="#8a8a8a" stroke="#222" stroke-width="0.7"/>
<line x1="480.3" y1="207.32" x2="480.3" y2="205.45" stroke="#222" stroke-width="0.8"/>
<line x1="478" y1="205.45" x2="482.59" y2="205.45" stroke="#222" stroke-width="0.8"/>
<rect x="489.2" y="180.18" width="9.6" height="30.42" fill="#f26a1c" stroke="#222" stroke-width="0.7"/>
<line x1="494" y1="180.18" x2="494" y2="178.31" stroke="#222" stroke-width="0.8"/>
<line x1="491.84" y1="178.31" x2="496.16" y2="178.31" stroke="#222" stroke-width="0.8"/>
<text x="494" y="175.11" font-size="6.6" text-anchor="middle" font-weight="bold" fill="#1a1a1a" stroke="#1a1a1a" stroke-width="0.4" letter-spacing="0.8">**</text>
<line x1="457.5" y1="140.4" x2="457.5" y2="211.05" stroke="#3a3a3a" stroke-width="0.9"/>
<line x1="455.9" y1="140.4" x2="457.5" y2="140.4" stroke="#3a3a3a" stroke-width="0.9"/>
<text x="454.9" y="142.99" font-size="7.2" text-anchor="end" fill="#222" stroke="#222" stroke-width="0.16">1.5</text>
<line x1="455.9" y1="163.8" x2="457.5" y2="163.8" stroke="#3a3a3a" stroke-width="0.9"/>
<text x="454.9" y="166.39" font-size="7.2" text-anchor="end" fill="#222" stroke="#222" stroke-width="0.16">1.0</text>
<line x1="455.9" y1="187.2" x2="457.5" y2="187.2" stroke="#3a3a3a" stroke-width="0.9"/>
<text x="454.9" y="189.79" font-size="7.2" text-anchor="end" fill="#222" stroke="#222" stroke-width="0.16">0.5</text>
<line x1="455.9" y1="210.6" x2="457.5" y2="210.6" stroke="#3a3a3a" stroke-width="0.9"/>
<text x="454.9" y="213.19" font-size="7.2" text-anchor="end" fill="#222" stroke="#222" stroke-width="0.16">0.0</text>
<line x1="457.05" y1="210.5" x2="503.6" y2="210.5" stroke="#3a3a3a" stroke-width="0.9"/>
<line x1="466.4" y1="210.5" x2="466.4" y2="212.1" stroke="#3a3a3a" stroke-width="0.9"/>
<line x1="480.3" y1="210.5" x2="480.3" y2="212.1" stroke="#3a3a3a" stroke-width="0.9"/>
<line x1="494" y1="210.5" x2="494" y2="212.1" stroke="#3a3a3a" stroke-width="0.9"/>
<text x="462.7" y="143" font-size="7.2" fill="#222" stroke="#222" stroke-width="0.16">MDA-MB-468</text>
<text x="441.3" y="174" font-size="7.4" text-anchor="middle" fill="#222" stroke="#222" stroke-width="0.16" transform="rotate(-90 441.3 174)" textLength="59" lengthAdjust="spacingAndGlyphs">% NAMPT-AS input</text>
<text x="469" y="217.2" font-size="6.8" text-anchor="end" fill="#222" stroke="#222" stroke-width="0.16" transform="rotate(-45 469 217.2)">Input</text>
<text x="482.5" y="217.2" font-size="6.8" text-anchor="end" fill="#222" stroke="#222" stroke-width="0.16" transform="rotate(-45 482.5 217.2)">IgG</text>
<text x="495.5" y="217.2" font-size="6.8" text-anchor="end" fill="#222" stroke="#222" stroke-width="0.16" transform="rotate(-45 495.5 217.2)" textLength="23" lengthAdjust="spacingAndGlyphs">POU2F2</text>
<text x="0.8" y="271.5" font-size="12.4" font-weight="bold" fill="#000" stroke="#000" stroke-width="0.3">G</text>
<rect x="115.1" y="309" width="10.2" height="41.1" fill="#6e6e6e" stroke="#333" stroke-width="0.6"/>
<line x1="120.2" y1="309" x2="120.2" y2="306.84" stroke="#222" stroke-width="0.8"/>
<line x1="117.9" y1="306.84" x2="122.49" y2="306.84" stroke="#222" stroke-width="0.8"/>
<text x="120.2" y="304.14" font-size="6.6" text-anchor="middle" font-weight="bold" fill="#1a1a1a" stroke="#1a1a1a" stroke-width="0.4" letter-spacing="0.8">**</text>
<rect x="130" y="297.47" width="9.9" height="52.63" fill="#f3df45" stroke="#333" stroke-width="0.6"/>
<line x1="134.95" y1="297.47" x2="134.95" y2="295.3" stroke="#222" stroke-width="0.8"/>
<line x1="132.72" y1="295.3" x2="137.18" y2="295.3" stroke="#222" stroke-width="0.8"/>
<text x="134.95" y="292.6" font-size="6.6" text-anchor="middle" font-weight="bold" fill="#1a1a1a" stroke="#1a1a1a" stroke-width="0.4" letter-spacing="0.8">**</text>
<line x1="81.5" y1="278" x2="81.5" y2="350.55" stroke="#3a3a3a" stroke-width="0.9"/>
<line x1="79.9" y1="278" x2="81.5" y2="278" stroke="#3a3a3a" stroke-width="0.9"/>
<text x="78.9" y="280.59" font-size="7.2" text-anchor="end" fill="#222" stroke="#222" stroke-width="0.16">400</text>
<line x1="79.9" y1="296.02" x2="81.5" y2="296.02" stroke="#3a3a3a" stroke-width="0.9"/>
<text x="78.9" y="298.62" font-size="7.2" text-anchor="end" fill="#222" stroke="#222" stroke-width="0.16">300</text>
<line x1="79.9" y1="314.05" x2="81.5" y2="314.05" stroke="#3a3a3a" stroke-width="0.9"/>
<text x="78.9" y="316.64" font-size="7.2" text-anchor="end" fill="#222" stroke="#222" stroke-width="0.16">200</text>
<line x1="79.9" y1="332.08" x2="81.5" y2="332.08" stroke="#3a3a3a" stroke-width="0.9"/>
<text x="78.9" y="334.67" font-size="7.2" text-anchor="end" fill="#222" stroke="#222" stroke-width="0.16">100</text>
<line x1="79.9" y1="350.1" x2="81.5" y2="350.1" stroke="#3a3a3a" stroke-width="0.9"/>
<text x="78.9" y="352.69" font-size="7.2" text-anchor="end" fill="#222" stroke="#222" stroke-width="0.16">0</text>
<line x1="81.05" y1="350.5" x2="144.7" y2="350.5" stroke="#3a3a3a" stroke-width="0.9"/>
<line x1="90.5" y1="350.5" x2="90.5" y2="352.1" stroke="#3a3a3a" stroke-width="0.9"/>
<line x1="105" y1="350.5" x2="105" y2="352.1" stroke="#3a3a3a" stroke-width="0.9"/>
<line x1="120.2" y1="350.5" x2="120.2" y2="352.1" stroke="#3a3a3a" stroke-width="0.9"/>
<line x1="135" y1="350.5" x2="135" y2="352.1" stroke="#3a3a3a" stroke-width="0.9"/>
<text x="49.5" y="315" font-size="7.8" text-anchor="middle" fill="#222" stroke="#222" stroke-width="0.16" transform="rotate(-90 49.5 315)" textLength="59" lengthAdjust="spacingAndGlyphs">Relative luciferase</text>
<text x="60.5" y="312" font-size="7.8" text-anchor="middle" fill="#222" stroke="#222" stroke-width="0.16" transform="rotate(-90 60.5 312)">activity</text>
<text x="84.6" y="362.8" font-size="6.6" text-anchor="end" fill="#1a1a1a" stroke="#1a1a1a" stroke-width="0.16" textLength="34.2" lengthAdjust="spacingAndGlyphs">pGL3-basic</text>
<text x="91.5" y="362.2" font-size="6.5" text-anchor="middle" fill="#222" stroke="#222" stroke-width="0.16">+</text>
<text x="105.3" y="362.2" font-size="6.5" text-anchor="middle" fill="#222" stroke="#222" stroke-width="0.16">+</text>
<text x="119.7" y="362.2" font-size="6.5" text-anchor="middle" fill="#222" stroke="#222" stroke-width="0.16">-</text>
<text x="135.6" y="362.2" font-size="6.5" text-anchor="middle" fill="#222" stroke="#222" stroke-width="0.16">-</text>
<text x="84.6" y="372" font-size="6.6" text-anchor="end" fill="#1a1a1a" stroke="#1a1a1a" stroke-width="0.16" textLength="84.2" lengthAdjust="spacingAndGlyphs">pGL3-NAMPT-AS-Promoter</text>
<text x="91.5" y="371.4" font-size="6.5" text-anchor="middle" fill="#222" stroke="#222" stroke-width="0.16">-</text>
<text x="105.3" y="371.4" font-size="6.5" text-anchor="middle" fill="#222" stroke="#222" stroke-width="0.16">-</text>
<text x="119.7" y="371.4" font-size="6.5" text-anchor="middle" fill="#222" stroke="#222" stroke-width="0.16">+</text>
<text x="135.6" y="371.4" font-size="6.5" text-anchor="middle" fill="#222" stroke="#222" stroke-width="0.16">+</text>
<text x="84.6" y="381.4" font-size="6.6" text-anchor="end" fill="#1a1a1a" stroke="#1a1a1a" stroke-width="0.16" textLength="16.3" lengthAdjust="spacingAndGlyphs">pFlag</text>
<text x="91.5" y="380.8" font-size="6.5" text-anchor="middle" fill="#222" stroke="#222" stroke-width="0.16">+</text>
<text x="105.3" y="380.8" font-size="6.5" text-anchor="middle" fill="#222" stroke="#222" stroke-width="0.16">-</text>
<text x="119.7" y="380.8" font-size="6.5" text-anchor="middle" fill="#222" stroke="#222" stroke-width="0.16">+</text>
<text x="135.6" y="380.8" font-size="6.5" text-anchor="middle" fill="#222" stroke="#222" stroke-width="0.16">-</text>
<text x="84.6" y="390.4" font-size="6.6" text-anchor="end" fill="#1a1a1a" stroke="#1a1a1a" stroke-width="0.16" textLength="43.3" lengthAdjust="spacingAndGlyphs">pFlag-POU2F2</text>
<text x="91.5" y="389.8" font-size="6.5" text-anchor="middle" fill="#222" stroke="#222" stroke-width="0.16">-</text>
<text x="105.3" y="389.8" font-size="6.5" text-anchor="middle" fill="#222" stroke="#222" stroke-width="0.16">+</text>
<text x="119.7" y="389.8" font-size="6.5" text-anchor="middle" fill="#222" stroke="#222" stroke-width="0.16">-</text>
<text x="135.6" y="389.8" font-size="6.5" text-anchor="middle" fill="#222" stroke="#222" stroke-width="0.16">+</text>
<text x="1.3" y="419.6" font-size="12.4" font-weight="bold" fill="#000" stroke="#000" stroke-width="0.3">H</text>
<rect x="85.4" y="478.85" width="10.8" height="16.05" fill="#2c64aa" stroke="#222" stroke-width="0.6"/>
<line x1="90.8" y1="478.85" x2="90.8" y2="478.48" stroke="#222" stroke-width="0.8"/>
<line x1="88.37" y1="478.48" x2="93.23" y2="478.48" stroke="#222" stroke-width="0.8"/>
<rect x="100.4" y="487.7" width="10.4" height="7.2" fill="#f26a1c" stroke="#222" stroke-width="0.6"/>
<line x1="105.6" y1="487.7" x2="105.6" y2="487.41" stroke="#222" stroke-width="0.8"/>
<line x1="103.26" y1="487.41" x2="107.94" y2="487.41" stroke="#222" stroke-width="0.8"/>
<rect x="116" y="442.87" width="10.5" height="52.03" fill="#6e6e6e" stroke="#222" stroke-width="0.6"/>
<line x1="121.25" y1="442.87" x2="121.25" y2="440.29" stroke="#222" stroke-width="0.8"/>
<line x1="118.89" y1="440.29" x2="123.61" y2="440.29" stroke="#222" stroke-width="0.8"/>
<text x="121.25" y="436.39" font-size="6.6" text-anchor="middle" font-weight="bold" fill="#1a1a1a" stroke="#1a1a1a" stroke-width="0.4" letter-spacing="0.8">**</text>
<rect x="131.5" y="429.59" width="10.9" height="65.31" fill="#f3df45" stroke="#222" stroke-width="0.6"/>
<line x1="136.95" y1="429.59" x2="136.95" y2="428.11" stroke="#222" stroke-width="0.8"/>
<line x1="134.5" y1="428.11" x2="139.4" y2="428.11" stroke="#222" stroke-width="0.8"/>
<text x="136.95" y="424.21" font-size="6.6" text-anchor="middle" font-weight="bold" fill="#1a1a1a" stroke="#1a1a1a" stroke-width="0.4" letter-spacing="0.8">**</text>
<line x1="80.5" y1="421.1" x2="80.5" y2="495.35" stroke="#3a3a3a" stroke-width="0.9"/>
<line x1="78.9" y1="421.1" x2="80.5" y2="421.1" stroke="#3a3a3a" stroke-width="0.9"/>
<text x="77.9" y="423.69" font-size="7.2" text-anchor="end" fill="#222" stroke="#222" stroke-width="0.16">2,000</text>
<line x1="78.9" y1="439.55" x2="80.5" y2="439.55" stroke="#3a3a3a" stroke-width="0.9"/>
<text x="77.9" y="442.14" font-size="7.2" text-anchor="end" fill="#222" stroke="#222" stroke-width="0.16">1,500</text>
<line x1="78.9" y1="458" x2="80.5" y2="458" stroke="#3a3a3a" stroke-width="0.9"/>
<text x="77.9" y="460.59" font-size="7.2" text-anchor="end" fill="#222" stroke="#222" stroke-width="0.16">1,000</text>
<line x1="78.9" y1="476.45" x2="80.5" y2="476.45" stroke="#3a3a3a" stroke-width="0.9"/>
<text x="77.9" y="479.04" font-size="7.2" text-anchor="end" fill="#222" stroke="#222" stroke-width="0.16">500</text>
<line x1="78.9" y1="494.9" x2="80.5" y2="494.9" stroke="#3a3a3a" stroke-width="0.9"/>
<text x="77.9" y="497.49" font-size="7.2" text-anchor="end" fill="#222" stroke="#222" stroke-width="0.16">0</text>
<line x1="80.05" y1="494.5" x2="146.5" y2="494.5" stroke="#3a3a3a" stroke-width="0.9"/>
<line x1="90.8" y1="494.5" x2="90.8" y2="496.1" stroke="#3a3a3a" stroke-width="0.9"/>
<line x1="105.6" y1="494.5" x2="105.6" y2="496.1" stroke="#3a3a3a" stroke-width="0.9"/>
<line x1="121.2" y1="494.5" x2="121.2" y2="496.1" stroke="#3a3a3a" stroke-width="0.9"/>
<line x1="137" y1="494.5" x2="137" y2="496.1" stroke="#3a3a3a" stroke-width="0.9"/>
<text x="40" y="458" font-size="7.8" text-anchor="middle" fill="#222" stroke="#222" stroke-width="0.16" transform="rotate(-90 40 458)">Relative luciferase</text>
<text x="51" y="455.5" font-size="7.8" text-anchor="middle" fill="#222" stroke="#222" stroke-width="0.16" transform="rotate(-90 51 455.5)">activity</text>
<text x="74.9" y="507.3" font-size="6.6" text-anchor="end" fill="#1a1a1a" stroke="#1a1a1a" stroke-width="0.16" textLength="32.9" lengthAdjust="spacingAndGlyphs">pGL3-basic</text>
<text x="84.4" y="506.7" font-size="6.5" text-anchor="middle" fill="#222" stroke="#222" stroke-width="0.16">+</text>
<text x="99.5" y="506.7" font-size="6.5" text-anchor="middle" fill="#222" stroke="#222" stroke-width="0.16">+</text>
<text x="115.4" y="506.7" font-size="6.5" text-anchor="middle" fill="#222" stroke="#222" stroke-width="0.16">-</text>
<text x="131.2" y="506.7" font-size="6.5" text-anchor="middle" fill="#222" stroke="#222" stroke-width="0.16">-</text>
<text x="74.9" y="516.2" font-size="6.6" text-anchor="end" fill="#1a1a1a" stroke="#1a1a1a" stroke-width="0.16" textLength="73.2" lengthAdjust="spacingAndGlyphs">pGL3-NAMPT-Promoter</text>
<text x="84.4" y="515.6" font-size="6.5" text-anchor="middle" fill="#222" stroke="#222" stroke-width="0.16">-</text>
<text x="99.5" y="515.6" font-size="6.5" text-anchor="middle" fill="#222" stroke="#222" stroke-width="0.16">-</text>
<text x="115.4" y="515.6" font-size="6.5" text-anchor="middle" fill="#222" stroke="#222" stroke-width="0.16">+</text>
<text x="131.2" y="515.6" font-size="6.5" text-anchor="middle" fill="#222" stroke="#222" stroke-width="0.16">+</text>
<text x="74.9" y="525.6" font-size="6.6" text-anchor="end" fill="#1a1a1a" stroke="#1a1a1a" stroke-width="0.16" textLength="15.5" lengthAdjust="spacingAndGlyphs">pFlag</text>
<text x="84.4" y="525" font-size="6.5" text-anchor="middle" fill="#222" stroke="#222" stroke-width="0.16">+</text>
<text x="99.5" y="525" font-size="6.5" text-anchor="middle" fill="#222" stroke="#222" stroke-width="0.16">-</text>
<text x="115.4" y="525" font-size="6.5" text-anchor="middle" fill="#222" stroke="#222" stroke-width="0.16">+</text>
<text x="131.2" y="525" font-size="6.5" text-anchor="middle" fill="#222" stroke="#222" stroke-width="0.16">-</text>
<text x="74.9" y="534.4" font-size="6.6" text-anchor="end" fill="#1a1a1a" stroke="#1a1a1a" stroke-width="0.16" textLength="43.7" lengthAdjust="spacingAndGlyphs">pFlag-POU2F2</text>
<text x="84.4" y="533.8" font-size="6.5" text-anchor="middle" fill="#222" stroke="#222" stroke-width="0.16">-</text>
<text x="99.5" y="533.8" font-size="6.5" text-anchor="middle" fill="#222" stroke="#222" stroke-width="0.16">+</text>
<text x="115.4" y="533.8" font-size="6.5" text-anchor="middle" fill="#222" stroke="#222" stroke-width="0.16">-</text>
<text x="131.2" y="533.8" font-size="6.5" text-anchor="middle" fill="#222" stroke="#222" stroke-width="0.16">+</text>
<text x="160" y="271.4" font-size="12.4" font-weight="bold" fill="#000" stroke="#000" stroke-width="0.3">I</text>
<rect x="189.6" y="304.1" width="7.4" height="44" fill="#2c5d9e" stroke="#222" stroke-width="0.7"/>
<rect x="189" y="311.4" width="8.6" height="4.1" fill="#fff"/>
<line x1="193.3" y1="304.1" x2="193.3" y2="303.62" stroke="#222" stroke-width="0.8"/>
<line x1="191.64" y1="303.62" x2="194.97" y2="303.62" stroke="#222" stroke-width="0.8"/>
<rect x="209.4" y="317.89" width="6.4" height="30.21" fill="#6a6a6a" stroke="#222" stroke-width="0.7"/>
<line x1="212.6" y1="317.89" x2="212.6" y2="317.49" stroke="#222" stroke-width="0.8"/>
<line x1="211.16" y1="317.49" x2="214.04" y2="317.49" stroke="#222" stroke-width="0.8"/>
<text x="212.6" y="316.24" font-size="6.82" text-anchor="middle" font-weight="bold" fill="#1a1a1a" stroke="#1a1a1a" stroke-width="0.4" letter-spacing="0.8">**</text>
<rect x="219" y="307.01" width="7" height="41.09" fill="#f0dc4e" stroke="#222" stroke-width="0.7"/>
<rect x="218.4" y="311.4" width="8.2" height="4.1" fill="#fff"/>
<line x1="222.5" y1="307.01" x2="222.5" y2="304.83" stroke="#222" stroke-width="0.8"/>
<line x1="220.93" y1="304.83" x2="224.07" y2="304.83" stroke="#222" stroke-width="0.8"/>
<text x="222.5" y="301.98" font-size="6.82" text-anchor="middle" font-weight="bold" fill="#1a1a1a" stroke="#1a1a1a" stroke-width="0.4" letter-spacing="0.8">**</text>
<rect x="228.4" y="329.02" width="7.2" height="19.08" fill="#8db3ee" stroke="#222" stroke-width="0.7"/>
<line x1="232" y1="329.02" x2="232" y2="326.64" stroke="#222" stroke-width="0.8"/>
<line x1="230.38" y1="326.64" x2="233.62" y2="326.64" stroke="#222" stroke-width="0.8"/>
<text x="232" y="325.39" font-size="6.82" text-anchor="middle" font-weight="bold" fill="#1a1a1a" stroke="#1a1a1a" stroke-width="0.4" letter-spacing="0.8">**</text>
<rect x="238" y="300.71" width="7.1" height="47.39" fill="#ef6b6b" stroke="#222" stroke-width="0.7"/>
<rect x="237.4" y="311.4" width="8.3" height="4.1" fill="#fff"/>
<line x1="241.55" y1="300.71" x2="241.55" y2="299.74" stroke="#222" stroke-width="0.8"/>
<line x1="239.95" y1="299.74" x2="243.15" y2="299.74" stroke="#222" stroke-width="0.8"/>
<text x="241.55" y="296.88" font-size="6.82" text-anchor="middle" font-weight="bold" fill="#1a1a1a" stroke="#1a1a1a" stroke-width="0.4" letter-spacing="0.8">**</text>
<line x1="186.4" y1="279" x2="186.4" y2="310.8" stroke="#3a3a3a" stroke-width="0.8"/>
<line x1="186.4" y1="315.8" x2="186.4" y2="348.1" stroke="#3a3a3a" stroke-width="0.8"/>
<line x1="184.6" y1="284.7" x2="186.4" y2="284.7" stroke="#3a3a3a" stroke-width="0.8"/>
<text x="183.8" y="287.4" font-size="7.6" text-anchor="end" fill="#222" stroke="#222" stroke-width="0.16">1.4</text>
<line x1="184.6" y1="294.4" x2="186.4" y2="294.4" stroke="#3a3a3a" stroke-width="0.8"/>
<text x="183.8" y="297.1" font-size="7.6" text-anchor="end" fill="#222" stroke="#222" stroke-width="0.16">1.2</text>
<line x1="184.6" y1="304.1" x2="186.4" y2="304.1" stroke="#3a3a3a" stroke-width="0.8"/>
<text x="183.8" y="306.8" font-size="7.6" text-anchor="end" fill="#222" stroke="#222" stroke-width="0.16">1.0</text>
<line x1="184.6" y1="316.3" x2="186.4" y2="316.3" stroke="#3a3a3a" stroke-width="0.8"/>
<text x="183.8" y="319" font-size="7.6" text-anchor="end" fill="#222" stroke="#222" stroke-width="0.16">0.4</text>
<line x1="184.6" y1="324.25" x2="186.4" y2="324.25" stroke="#3a3a3a" stroke-width="0.8"/>
<text x="183.8" y="326.95" font-size="7.6" text-anchor="end" fill="#222" stroke="#222" stroke-width="0.16">0.3</text>
<line x1="184.6" y1="332.2" x2="186.4" y2="332.2" stroke="#3a3a3a" stroke-width="0.8"/>
<text x="183.8" y="334.9" font-size="7.6" text-anchor="end" fill="#222" stroke="#222" stroke-width="0.16">0.2</text>
<line x1="184.6" y1="340.15" x2="186.4" y2="340.15" stroke="#3a3a3a" stroke-width="0.8"/>
<text x="183.8" y="342.85" font-size="7.6" text-anchor="end" fill="#222" stroke="#222" stroke-width="0.16">0.1</text>
<line x1="184.6" y1="348.1" x2="186.4" y2="348.1" stroke="#3a3a3a" stroke-width="0.8"/>
<text x="183.8" y="350.8" font-size="7.6" text-anchor="end" fill="#222" stroke="#222" stroke-width="0.16">0.0</text>
<line x1="184.9" y1="311.6" x2="187.9" y2="310" stroke="#3a3a3a" stroke-width="0.7"/>
<line x1="184.9" y1="316.6" x2="187.9" y2="315" stroke="#3a3a3a" stroke-width="0.7"/>
<line x1="186.05" y1="348.5" x2="247.8" y2="348.5" stroke="#3a3a3a" stroke-width="0.9"/>
<line x1="193.3" y1="348.5" x2="193.3" y2="350.1" stroke="#3a3a3a" stroke-width="0.9"/>
<line x1="203.3" y1="348.5" x2="203.3" y2="350.1" stroke="#3a3a3a" stroke-width="0.9"/>
<line x1="212.6" y1="348.5" x2="212.6" y2="350.1" stroke="#3a3a3a" stroke-width="0.9"/>
<line x1="222.5" y1="348.5" x2="222.5" y2="350.1" stroke="#3a3a3a" stroke-width="0.9"/>
<line x1="232" y1="348.5" x2="232" y2="350.1" stroke="#3a3a3a" stroke-width="0.9"/>
<line x1="241.55" y1="348.5" x2="241.55" y2="350.1" stroke="#3a3a3a" stroke-width="0.9"/>
<text x="217.5" y="278.2" font-size="7.2" text-anchor="middle" fill="#222" stroke="#222" stroke-width="0.16">MDA-MB-231</text>
<text x="168.5" y="314" font-size="7.6" text-anchor="middle" fill="#222" stroke="#222" stroke-width="0.16" transform="rotate(-90 168.5 314)" textLength="27" lengthAdjust="spacingAndGlyphs">% INPUT</text>
<text x="194" y="358" font-size="7" text-anchor="end" fill="#222" stroke="#222" stroke-width="0.16" transform="rotate(-45 194 358)">Input</text>
<text x="203" y="358" font-size="7" text-anchor="end" fill="#222" stroke="#222" stroke-width="0.16" transform="rotate(-45 203 358)">IgG</text>
<text x="212.5" y="358" font-size="7" text-anchor="end" fill="#222" stroke="#222" stroke-width="0.16" transform="rotate(-45 212.5 358)">FLAG</text>
<text x="223.5" y="358" font-size="7" text-anchor="end" fill="#222" stroke="#222" stroke-width="0.16" transform="rotate(-45 223.5 358)">RNA polymerase II</text>
<text x="232.5" y="358" font-size="7" text-anchor="end" fill="#222" stroke="#222" stroke-width="0.16" transform="rotate(-45 232.5 358)">H3K4me3</text>
<text x="241.5" y="358" font-size="7" text-anchor="end" fill="#222" stroke="#222" stroke-width="0.16" transform="rotate(-45 241.5 358)">H3K27ac</text>
<text x="161.8" y="423.4" font-size="12.4" font-weight="bold" fill="#000" stroke="#000" stroke-width="0.3">J</text>
<rect x="194.2" y="443.5" width="7.7" height="50.5" fill="#2c5d9e" stroke="#222" stroke-width="0.7"/>
<rect x="193.6" y="457.6" width="8.9" height="3.3" fill="#fff"/>
<line x1="198.05" y1="443.5" x2="198.05" y2="443.31" stroke="#222" stroke-width="0.8"/>
<line x1="196.32" y1="443.31" x2="199.78" y2="443.31" stroke="#222" stroke-width="0.8"/>
<rect x="215.8" y="468.5" width="7.7" height="25.5" fill="#6a6a6a" stroke="#222" stroke-width="0.7"/>
<line x1="219.65" y1="468.5" x2="219.65" y2="467.99" stroke="#222" stroke-width="0.8"/>
<line x1="217.92" y1="467.99" x2="221.38" y2="467.99" stroke="#222" stroke-width="0.8"/>
<text x="219.65" y="468.74" font-size="6.82" text-anchor="middle" font-weight="bold" fill="#1a1a1a" stroke="#1a1a1a" stroke-width="0.4" letter-spacing="0.8">**</text>
<rect x="226.3" y="453.12" width="8.1" height="40.88" fill="#f0dc4e" stroke="#222" stroke-width="0.7"/>
<rect x="225.7" y="457.6" width="9.3" height="3.3" fill="#fff"/>
<line x1="230.35" y1="453.12" x2="230.35" y2="451.97" stroke="#222" stroke-width="0.8"/>
<line x1="228.53" y1="451.97" x2="232.17" y2="451.97" stroke="#222" stroke-width="0.8"/>
<text x="230.35" y="452.52" font-size="6.82" text-anchor="middle" font-weight="bold" fill="#1a1a1a" stroke="#1a1a1a" stroke-width="0.4" letter-spacing="0.8">**</text>
<rect x="237.5" y="475.51" width="7.7" height="18.49" fill="#8db3ee" stroke="#222" stroke-width="0.7"/>
<line x1="241.35" y1="475.51" x2="241.35" y2="471.69" stroke="#222" stroke-width="0.8"/>
<line x1="239.62" y1="471.69" x2="243.08" y2="471.69" stroke="#222" stroke-width="0.8"/>
<text x="241.35" y="472.44" font-size="6.82" text-anchor="middle" font-weight="bold" fill="#1a1a1a" stroke="#1a1a1a" stroke-width="0.4" letter-spacing="0.8">**</text>
<rect x="248" y="447.35" width="8.2" height="46.65" fill="#ef6b6b" stroke="#222" stroke-width="0.7"/>
<rect x="247.4" y="457.6" width="9.4" height="3.3" fill="#fff"/>
<line x1="252.1" y1="447.35" x2="252.1" y2="446.19" stroke="#222" stroke-width="0.8"/>
<line x1="250.25" y1="446.19" x2="253.94" y2="446.19" stroke="#222" stroke-width="0.8"/>
<text x="252.1" y="446.75" font-size="6.82" text-anchor="middle" font-weight="bold" fill="#1a1a1a" stroke="#1a1a1a" stroke-width="0.4" letter-spacing="0.8">**</text>
<line x1="189.8" y1="424.5" x2="189.8" y2="457" stroke="#3a3a3a" stroke-width="0.8"/>
<line x1="189.8" y1="461.2" x2="189.8" y2="494" stroke="#3a3a3a" stroke-width="0.8"/>
<line x1="188" y1="428.1" x2="189.8" y2="428.1" stroke="#3a3a3a" stroke-width="0.8"/>
<text x="187.2" y="430.8" font-size="7.6" text-anchor="end" fill="#222" stroke="#222" stroke-width="0.16">1.4</text>
<line x1="188" y1="435.8" x2="189.8" y2="435.8" stroke="#3a3a3a" stroke-width="0.8"/>
<text x="187.2" y="438.5" font-size="7.6" text-anchor="end" fill="#222" stroke="#222" stroke-width="0.16">1.2</text>
<line x1="188" y1="443.5" x2="189.8" y2="443.5" stroke="#3a3a3a" stroke-width="0.8"/>
<text x="187.2" y="446.2" font-size="7.6" text-anchor="end" fill="#222" stroke="#222" stroke-width="0.16">1.0</text>
<line x1="188" y1="451.2" x2="189.8" y2="451.2" stroke="#3a3a3a" stroke-width="0.8"/>
<text x="187.2" y="453.9" font-size="7.6" text-anchor="end" fill="#222" stroke="#222" stroke-width="0.16">0.8</text>
<line x1="188" y1="462.12" x2="189.8" y2="462.12" stroke="#3a3a3a" stroke-width="0.8"/>
<text x="187.2" y="464.82" font-size="7.6" text-anchor="end" fill="#222" stroke="#222" stroke-width="0.16">0.25</text>
<line x1="188" y1="468.5" x2="189.8" y2="468.5" stroke="#3a3a3a" stroke-width="0.8"/>
<text x="187.2" y="471.2" font-size="7.6" text-anchor="end" fill="#222" stroke="#222" stroke-width="0.16">0.20</text>
<line x1="188" y1="474.88" x2="189.8" y2="474.88" stroke="#3a3a3a" stroke-width="0.8"/>
<text x="187.2" y="477.57" font-size="7.6" text-anchor="end" fill="#222" stroke="#222" stroke-width="0.16">0.15</text>
<line x1="188" y1="481.25" x2="189.8" y2="481.25" stroke="#3a3a3a" stroke-width="0.8"/>
<text x="187.2" y="483.95" font-size="7.6" text-anchor="end" fill="#222" stroke="#222" stroke-width="0.16">0.10</text>
<line x1="188" y1="487.62" x2="189.8" y2="487.62" stroke="#3a3a3a" stroke-width="0.8"/>
<text x="187.2" y="490.32" font-size="7.6" text-anchor="end" fill="#222" stroke="#222" stroke-width="0.16">0.05</text>
<line x1="188" y1="494" x2="189.8" y2="494" stroke="#3a3a3a" stroke-width="0.8"/>
<text x="187.2" y="496.7" font-size="7.6" text-anchor="end" fill="#222" stroke="#222" stroke-width="0.16">0.00</text>
<line x1="188.3" y1="457.8" x2="191.3" y2="456.2" stroke="#3a3a3a" stroke-width="0.7"/>
<line x1="188.3" y1="462" x2="191.3" y2="460.4" stroke="#3a3a3a" stroke-width="0.7"/>
<line x1="189.05" y1="494.5" x2="258" y2="494.5" stroke="#3a3a3a" stroke-width="0.9"/>
<line x1="198.05" y1="494.5" x2="198.05" y2="496.1" stroke="#3a3a3a" stroke-width="0.9"/>
<line x1="208.8" y1="494.5" x2="208.8" y2="496.1" stroke="#3a3a3a" stroke-width="0.9"/>
<line x1="219.65" y1="494.5" x2="219.65" y2="496.1" stroke="#3a3a3a" stroke-width="0.9"/>
<line x1="230.35" y1="494.5" x2="230.35" y2="496.1" stroke="#3a3a3a" stroke-width="0.9"/>
<line x1="241.35" y1="494.5" x2="241.35" y2="496.1" stroke="#3a3a3a" stroke-width="0.9"/>
<line x1="252.1" y1="494.5" x2="252.1" y2="496.1" stroke="#3a3a3a" stroke-width="0.9"/>
<text x="220.5" y="423" font-size="7.2" text-anchor="middle" fill="#222" stroke="#222" stroke-width="0.16">MDA-MB-468</text>
<text x="168.5" y="460" font-size="7.6" text-anchor="middle" fill="#222" stroke="#222" stroke-width="0.16" transform="rotate(-90 168.5 460)" textLength="27" lengthAdjust="spacingAndGlyphs">% INPUT</text>
<text x="201" y="500.5" font-size="7" text-anchor="end" fill="#222" stroke="#222" stroke-width="0.16" transform="rotate(-45 201 500.5)">Input</text>
<text x="211" y="500.5" font-size="7" text-anchor="end" fill="#222" stroke="#222" stroke-width="0.16" transform="rotate(-45 211 500.5)">IgG</text>
<text x="222" y="500.5" font-size="7" text-anchor="end" fill="#222" stroke="#222" stroke-width="0.16" transform="rotate(-45 222 500.5)">FLAG</text>
<text x="232" y="500.5" font-size="7" text-anchor="end" fill="#222" stroke="#222" stroke-width="0.16" transform="rotate(-45 232 500.5)">RNA polymerase II</text>
<text x="244" y="500.5" font-size="7" text-anchor="end" fill="#222" stroke="#222" stroke-width="0.16" transform="rotate(-45 244 500.5)">H3K4me3</text>
<text x="255.5" y="500.5" font-size="7" text-anchor="end" fill="#222" stroke="#222" stroke-width="0.16" transform="rotate(-45 255.5 500.5)">H3K27ac</text>
<text x="259.2" y="271.2" font-size="12.4" font-weight="bold" fill="#000" stroke="#000" stroke-width="0.3">K</text>
<defs><linearGradient id="cbar" x1="0" y1="0" x2="0" y2="1">
<stop offset="0" stop-color="#2a3670"/><stop offset="0.18" stop-color="#4a78b8"/><stop offset="0.33" stop-color="#b8d4e8"/>
<stop offset="0.45" stop-color="#f4f8f0"/><stop offset="0.55" stop-color="#fde8b0"/><stop offset="0.68" stop-color="#f0a060"/>
<stop offset="0.82" stop-color="#c04a30"/><stop offset="1" stop-color="#880a24"/></linearGradient></defs>
<text x="307.9" y="270.6" font-size="7" text-anchor="middle" fill="#222" stroke="#222" stroke-width="0.16">H3K4me3</text>
<rect x="281.2" y="275.4" width="55.3" height="45" fill="#fff" stroke="#9a9a9a" stroke-width="0.6"/>
<path d="M281.2 316.3 L283.7 316.8 L286.2 317.1 L288.6 315.2 L290.2 315.8 L291.9 314.2 L293.5 315.2 L295.1 316.8 L296.8 311.4 L298.4 302.4 L299.7 287.7 L300.5 277.9 L301.4 282.8 L302.2 299.1 L303 284.4 L303.8 277.9 L304.6 284.4 L305.8 307.3 L306.6 317.9 L307.7 308.9 L309.4 292.9 L310.7 295.9 L312 308.9 L313.1 317.9 L315.6 318.1 L336.5 318.1" stroke="#9a9ad0" stroke-width="1.3" fill="none" stroke-linejoin="round" opacity="0.55"/>
<path d="M281.2 316.3 L283.7 316.8 L286.2 317.1 L288.6 315.2 L290.2 315.8 L291.9 314.2 L293.5 315.2 L295.1 316.8 L296.8 311.4 L298.4 302.4 L299.7 287.7 L300.5 277.9 L301.4 282.8 L302.2 299.1 L303 284.4 L303.8 277.9 L304.6 284.4 L305.8 307.3 L306.6 317.9 L307.7 308.9 L309.4 292.9 L310.7 295.9 L312 308.9 L313.1 317.9 L315.6 318.1 L336.5 318.1" stroke="#30306e" stroke-width="0.6" fill="none" stroke-linejoin="round"/>
<line x1="321.5" y1="278.8" x2="325.5" y2="278.8" stroke="#3a3a80" stroke-width="0.6"/>
<text x="326" y="280" font-size="3.4" fill="#444">Genes</text>
<line x1="280" y1="281.1" x2="281.2" y2="281.1" stroke="#666" stroke-width="0.4"/>
<text x="279" y="282.1" font-size="3" text-anchor="end" fill="#333">300</text>
<line x1="280" y1="287.33" x2="281.2" y2="287.33" stroke="#666" stroke-width="0.4"/>
<text x="279" y="288.33" font-size="3" text-anchor="end" fill="#333">250</text>
<line x1="280" y1="293.57" x2="281.2" y2="293.57" stroke="#666" stroke-width="0.4"/>
<text x="279" y="294.57" font-size="3" text-anchor="end" fill="#333">200</text>
<line x1="280" y1="299.8" x2="281.2" y2="299.8" stroke="#666" stroke-width="0.4"/>
<text x="279" y="300.8" font-size="3" text-anchor="end" fill="#333">150</text>
<line x1="280" y1="306.03" x2="281.2" y2="306.03" stroke="#666" stroke-width="0.4"/>
<text x="279" y="307.03" font-size="3" text-anchor="end" fill="#333">100</text>
<line x1="280" y1="312.27" x2="281.2" y2="312.27" stroke="#666" stroke-width="0.4"/>
<text x="279" y="313.27" font-size="3" text-anchor="end" fill="#333">50</text>
<line x1="280" y1="318.5" x2="281.2" y2="318.5" stroke="#666" stroke-width="0.4"/>
<text x="279" y="319.5" font-size="3" text-anchor="end" fill="#333">0</text>
<text x="273.4" y="297.9" font-size="4.5" text-anchor="middle" fill="#333" transform="rotate(-90 273.4 297.9)">Genes</text>
<text x="283.7" y="324" font-size="2.8" text-anchor="middle" fill="#444">-5.0</text>
<text x="308.85" y="324" font-size="2.8" text-anchor="middle" fill="#444">TSS</text>
<text x="334" y="324" font-size="2.8" text-anchor="middle" fill="#444">5.0Kb</text>
<rect x="281.2" y="327.8" width="55.1" height="45" fill="#b01030"/>
<rect x="282.6" y="327.8" width="53.7" height="45" fill="#a81828"/>
<rect x="284.5" y="327.8" width="51.8" height="45" fill="#b82028"/>
<rect x="287.7" y="327.8" width="48.6" height="45" fill="#c02828"/>
<rect x="289.1" y="327.8" width="47.2" height="45" fill="#c83030"/>
<rect x="291.4" y="327.8" width="44.9" height="45" fill="#c02830"/>
<rect x="293.5" y="327.8" width="42.8" height="45" fill="#b01818"/>
<rect x="295.3" y="327.8" width="41" height="45" fill="#d06040"/>
<rect x="296.4" y="327.8" width="39.9" height="45" fill="#e89060"/>
<rect x="296.9" y="327.8" width="39.4" height="45" fill="#f8d0b0"/>
<rect x="298.3" y="327.8" width="38" height="45" fill="#f4f0ec"/>
<rect x="299" y="327.8" width="37.3" height="45" fill="#8898b8"/>
<rect x="299.4" y="327.8" width="36.9" height="45" fill="#2a4a80"/>
<rect x="300.8" y="327.8" width="35.5" height="45" fill="#b0cdf0"/>
<rect x="301.6" y="327.8" width="34.7" height="45" fill="#d8e8ff"/>
<rect x="302.8" y="327.8" width="33.5" height="45" fill="#c0c0d0"/>
<rect x="303.3" y="327.8" width="33" height="45" fill="#505a8a"/>
<rect x="304.5" y="327.8" width="31.8" height="45" fill="#c08090"/>
<rect x="305.4" y="327.8" width="30.9" height="45" fill="#e090a0"/>
<rect x="306.1" y="327.8" width="30.2" height="45" fill="#901020"/>
<rect x="307.7" y="327.8" width="28.6" height="45" fill="#f0d0b0"/>
<rect x="308.6" y="327.8" width="27.7" height="45" fill="#fff0d0"/>
<rect x="311.8" y="327.8" width="24.5" height="45" fill="#d08070"/>
<rect x="312.8" y="327.8" width="23.5" height="45" fill="#b01828"/>
<rect x="313.7" y="327.8" width="22.6" height="45" fill="#8e0a22"/>
<text x="279" y="350.3" font-size="4.5" text-anchor="middle" fill="#333" transform="rotate(-90 279 350.3)">Genes</text>
<text x="283.7" y="376" font-size="2.8" text-anchor="middle" fill="#444">-5.0</text>
<text x="308.75" y="376" font-size="2.8" text-anchor="middle" fill="#444">TSS</text>
<text x="333.8" y="376" font-size="2.8" text-anchor="middle" fill="#444">5.0Kb</text>
<text x="308.75" y="381.8" font-size="5.2" text-anchor="middle" fill="#333" textLength="46" lengthAdjust="spacingAndGlyphs">Distance from TSS (bp)</text>
<rect x="339.1" y="327.8" width="3" height="45" fill="url(#cbar)"/>
<text x="343.7" y="331.2" font-size="3" fill="#333">600</text>
<text x="343.7" y="338.28" font-size="3" fill="#333">500</text>
<text x="343.7" y="345.36" font-size="3" fill="#333">400</text>
<text x="343.7" y="352.44" font-size="3" fill="#333">300</text>
<text x="343.7" y="359.52" font-size="3" fill="#333">200</text>
<text x="343.7" y="366.6" font-size="3" fill="#333">100</text>
<text x="385.4" y="270.6" font-size="7" text-anchor="middle" fill="#222" stroke="#222" stroke-width="0.16">H3K27ac</text>
<rect x="357.3" y="275.8" width="55" height="44.2" fill="#fff" stroke="#9a9a9a" stroke-width="0.6"/>
<path d="M357.3 318.2 L372.9 318.2 L374.6 314.7 L376.7 300 L378.4 284.4 L379.8 277.5 L380.8 286.2 L382 307 L382.9 316.4 L384.1 307 L385.3 292.2 L386.4 288.7 L387.4 293.9 L388.8 312.1 L390.2 317.7 L391.9 318.3 L412.3 318.3" stroke="#9a9ad0" stroke-width="1.3" fill="none" stroke-linejoin="round" opacity="0.55"/>
<path d="M357.3 318.2 L372.9 318.2 L374.6 314.7 L376.7 300 L378.4 284.4 L379.8 277.5 L380.8 286.2 L382 307 L382.9 316.4 L384.1 307 L385.3 292.2 L386.4 288.7 L387.4 293.9 L388.8 312.1 L390.2 317.7 L391.9 318.3 L412.3 318.3" stroke="#30306e" stroke-width="0.6" fill="none" stroke-linejoin="round"/>
<line x1="397.3" y1="279.2" x2="401.3" y2="279.2" stroke="#3a3a80" stroke-width="0.6"/>
<text x="401.8" y="280.4" font-size="3.4" fill="#444">Genes</text>
<line x1="356.1" y1="276.9" x2="357.3" y2="276.9" stroke="#666" stroke-width="0.4"/>
<text x="355.1" y="277.9" font-size="3" text-anchor="end" fill="#333">300</text>
<line x1="356.1" y1="283.87" x2="357.3" y2="283.87" stroke="#666" stroke-width="0.4"/>
<text x="355.1" y="284.87" font-size="3" text-anchor="end" fill="#333">250</text>
<line x1="356.1" y1="290.83" x2="357.3" y2="290.83" stroke="#666" stroke-width="0.4"/>
<text x="355.1" y="291.83" font-size="3" text-anchor="end" fill="#333">200</text>
<line x1="356.1" y1="297.8" x2="357.3" y2="297.8" stroke="#666" stroke-width="0.4"/>
<text x="355.1" y="298.8" font-size="3" text-anchor="end" fill="#333">150</text>
<line x1="356.1" y1="304.77" x2="357.3" y2="304.77" stroke="#666" stroke-width="0.4"/>
<text x="355.1" y="305.77" font-size="3" text-anchor="end" fill="#333">100</text>
<line x1="356.1" y1="311.73" x2="357.3" y2="311.73" stroke="#666" stroke-width="0.4"/>
<text x="355.1" y="312.73" font-size="3" text-anchor="end" fill="#333">50</text>
<line x1="356.1" y1="318.7" x2="357.3" y2="318.7" stroke="#666" stroke-width="0.4"/>
<text x="355.1" y="319.7" font-size="3" text-anchor="end" fill="#333">0</text>
<text x="359.8" y="323.6" font-size="2.8" text-anchor="middle" fill="#444">-5.0</text>
<text x="384.8" y="323.6" font-size="2.8" text-anchor="middle" fill="#444">TSS</text>
<text x="409.8" y="323.6" font-size="2.8" text-anchor="middle" fill="#444">5.0Kb</text>
<rect x="357.3" y="328" width="55.4" height="44.2" fill="#a00828"/>
<rect x="362" y="328" width="50.7" height="44.2" fill="#a40c2a"/>
<rect x="366" y="328" width="46.7" height="44.2" fill="#a00828"/>
<rect x="372.5" y="328" width="40.2" height="44.2" fill="#a81828"/>
<rect x="373.8" y="328" width="38.9" height="44.2" fill="#c83a28"/>
<rect x="375.2" y="328" width="37.5" height="44.2" fill="#f0b890"/>
<rect x="376.2" y="328" width="36.5" height="44.2" fill="#fff8e8"/>
<rect x="377.3" y="328" width="35.4" height="44.2" fill="#a0a8c8"/>
<rect x="378.1" y="328" width="34.6" height="44.2" fill="#203a8a"/>
<rect x="379.7" y="328" width="33" height="44.2" fill="#c8d0e8"/>
<rect x="380.8" y="328" width="31.9" height="44.2" fill="#f0d0d8"/>
<rect x="381.9" y="328" width="30.8" height="44.2" fill="#9a1028"/>
<rect x="383.2" y="328" width="29.5" height="44.2" fill="#d89098"/>
<rect x="384.6" y="328" width="28.1" height="44.2" fill="#e0e0f0"/>
<rect x="385.7" y="328" width="27" height="44.2" fill="#8098b8"/>
<rect x="386.7" y="328" width="26" height="44.2" fill="#f0f4ff"/>
<rect x="388.1" y="328" width="24.6" height="44.2" fill="#d08878"/>
<rect x="389.2" y="328" width="23.5" height="44.2" fill="#a82020"/>
<rect x="390.2" y="328" width="22.5" height="44.2" fill="#a00828"/>
<rect x="400" y="328" width="12.7" height="44.2" fill="#9c0a28"/>
<text x="356.2" y="350.1" font-size="4.5" text-anchor="middle" fill="#333" transform="rotate(-90 356.2 350.1)">Genes</text>
<text x="359.8" y="375.4" font-size="2.8" text-anchor="middle" fill="#444">-5.0</text>
<text x="385" y="375.4" font-size="2.8" text-anchor="middle" fill="#444">TSS</text>
<text x="410.2" y="375.4" font-size="2.8" text-anchor="middle" fill="#444">5.0Kb</text>
<text x="385" y="381.8" font-size="5.2" text-anchor="middle" fill="#333" textLength="46" lengthAdjust="spacingAndGlyphs">Distance from TSS (bp)</text>
<rect x="415.3" y="328" width="3.2" height="44.2" fill="url(#cbar)"/>
<text x="450.4" y="270.6" font-size="7" text-anchor="middle" fill="#222" stroke="#222" stroke-width="0.16">RNA polymerase II</text>
<rect x="430.6" y="275.8" width="55.7" height="43.6" fill="#fff" stroke="#9a9a9a" stroke-width="0.6"/>
<path d="M430.6 316.9 L432.5 316.2 L434.4 315.8 L436.3 316.9 L438.3 317.5 L440.2 316.2 L442.1 316.9 L444 317.5 L446 316.5 L447.9 315 L449.8 313.7 L451.3 316.2 L452.7 312.7 L453.8 293.5 L454.6 277.7 L455.4 293.5 L456.5 312.3 L457.7 301.2 L458.5 294.4 L459.4 301.2 L460.4 314.6 L461.9 317.5 L464.2 316.2 L467.1 317.5 L471 315.6 L473.8 317.5 L476.7 316.5 L479.6 317.5 L482.5 316.2 L486.3 316.9" stroke="#9a9ad0" stroke-width="1.3" fill="none" stroke-linejoin="round" opacity="0.55"/>
<path d="M430.6 316.9 L432.5 316.2 L434.4 315.8 L436.3 316.9 L438.3 317.5 L440.2 316.2 L442.1 316.9 L444 317.5 L446 316.5 L447.9 315 L449.8 313.7 L451.3 316.2 L452.7 312.7 L453.8 293.5 L454.6 277.7 L455.4 293.5 L456.5 312.3 L457.7 301.2 L458.5 294.4 L459.4 301.2 L460.4 314.6 L461.9 317.5 L464.2 316.2 L467.1 317.5 L471 315.6 L473.8 317.5 L476.7 316.5 L479.6 317.5 L482.5 316.2 L486.3 316.9" stroke="#30306e" stroke-width="0.6" fill="none" stroke-linejoin="round"/>
<line x1="471.3" y1="279.2" x2="475.3" y2="279.2" stroke="#3a3a80" stroke-width="0.6"/>
<text x="475.8" y="280.4" font-size="3.4" fill="#444">Genes</text>
<line x1="429.4" y1="276.9" x2="430.6" y2="276.9" stroke="#666" stroke-width="0.4"/>
<text x="428.4" y="277.9" font-size="3" text-anchor="end" fill="#333">40</text>
<line x1="429.4" y1="282.12" x2="430.6" y2="282.12" stroke="#666" stroke-width="0.4"/>
<text x="428.4" y="283.12" font-size="3" text-anchor="end" fill="#333">35</text>
<line x1="429.4" y1="287.35" x2="430.6" y2="287.35" stroke="#666" stroke-width="0.4"/>
<text x="428.4" y="288.35" font-size="3" text-anchor="end" fill="#333">30</text>
<line x1="429.4" y1="292.57" x2="430.6" y2="292.57" stroke="#666" stroke-width="0.4"/>
<text x="428.4" y="293.57" font-size="3" text-anchor="end" fill="#333">25</text>
<line x1="429.4" y1="297.8" x2="430.6" y2="297.8" stroke="#666" stroke-width="0.4"/>
<text x="428.4" y="298.8" font-size="3" text-anchor="end" fill="#333">20</text>
<line x1="429.4" y1="303.02" x2="430.6" y2="303.02" stroke="#666" stroke-width="0.4"/>
<text x="428.4" y="304.02" font-size="3" text-anchor="end" fill="#333">15</text>
<line x1="429.4" y1="308.25" x2="430.6" y2="308.25" stroke="#666" stroke-width="0.4"/>
<text x="428.4" y="309.25" font-size="3" text-anchor="end" fill="#333">10</text>
<line x1="429.4" y1="313.47" x2="430.6" y2="313.47" stroke="#666" stroke-width="0.4"/>
<text x="428.4" y="314.47" font-size="3" text-anchor="end" fill="#333">5</text>
<line x1="429.4" y1="318.7" x2="430.6" y2="318.7" stroke="#666" stroke-width="0.4"/>
<text x="428.4" y="319.7" font-size="3" text-anchor="end" fill="#333">0</text>
<text x="424.8" y="297.6" font-size="4.5" text-anchor="middle" fill="#333" transform="rotate(-90 424.8 297.6)">Genes</text>
<text x="433.1" y="323" font-size="2.8" text-anchor="middle" fill="#444">-5.0</text>
<text x="458.45" y="323" font-size="2.8" text-anchor="middle" fill="#444">TSS</text>
<text x="483.8" y="323" font-size="2.8" text-anchor="middle" fill="#444">5.0Kb</text>
<rect x="430.6" y="327.6" width="55.7" height="45.1" fill="#c0283a"/>
<rect x="433" y="327.6" width="53.3" height="45.1" fill="#b82434"/>
<rect x="436.9" y="327.6" width="49.4" height="45.1" fill="#b02030"/>
<rect x="440" y="327.6" width="46.3" height="45.1" fill="#b01c30"/>
<rect x="445.4" y="327.6" width="40.9" height="45.1" fill="#b82030"/>
<rect x="448.1" y="327.6" width="38.2" height="45.1" fill="#e05048"/>
<rect x="450.8" y="327.6" width="35.5" height="45.1" fill="#b82030"/>
<rect x="452.9" y="327.6" width="33.4" height="45.1" fill="#a06080"/>
<rect x="454" y="327.6" width="32.3" height="45.1" fill="#706890"/>
<rect x="455.3" y="327.6" width="31" height="45.1" fill="#c8c0c0"/>
<rect x="456.2" y="327.6" width="30.1" height="45.1" fill="#e8e0b0"/>
<rect x="458.3" y="327.6" width="28" height="45.1" fill="#a8b8b8"/>
<rect x="459.4" y="327.6" width="26.9" height="45.1" fill="#f8e8e8"/>
<rect x="460.5" y="327.6" width="25.8" height="45.1" fill="#d05040"/>
<rect x="461.5" y="327.6" width="24.8" height="45.1" fill="#c02828"/>
<rect x="464.8" y="327.6" width="21.5" height="45.1" fill="#a81030"/>
<rect x="470" y="327.6" width="16.3" height="45.1" fill="#b8202e"/>
<rect x="476" y="327.6" width="10.3" height="45.1" fill="#b01830"/>
<rect x="481" y="327.6" width="5.3" height="45.1" fill="#b41c30"/>
<text x="428.8" y="350.15" font-size="4.5" text-anchor="middle" fill="#333" transform="rotate(-90 428.8 350.15)">Genes</text>
<text x="433.1" y="375.9" font-size="2.8" text-anchor="middle" fill="#444">-5.0</text>
<text x="458.45" y="375.9" font-size="2.8" text-anchor="middle" fill="#444">TSS</text>
<text x="483.8" y="375.9" font-size="2.8" text-anchor="middle" fill="#444">5.0Kb</text>
<text x="458.45" y="381.8" font-size="5.2" text-anchor="middle" fill="#333" textLength="46" lengthAdjust="spacingAndGlyphs">Distance from TSS (bp)</text>
<rect x="488.8" y="327.6" width="2.8" height="45.1" fill="url(#cbar)"/>
<text x="493.2" y="330.5" font-size="3" fill="#333">80</text>
<text x="493.2" y="339" font-size="3" fill="#333">60</text>
<text x="493.2" y="347.5" font-size="3" fill="#333">40</text>
<text x="493.2" y="356" font-size="3" fill="#333">20</text>
<text x="493.2" y="364.5" font-size="3" fill="#333">0</text>
<text x="493.2" y="373" font-size="3" fill="#333">-20</text>
<text x="278.4" y="420.5" font-size="12.4" font-weight="bold" fill="#000" stroke="#000" stroke-width="0.3">L</text>
<rect x="313.5" y="491.38" width="10" height="0.12" fill="#2c5a9a" stroke="#222" stroke-width="0.6"/>
<rect x="330.2" y="467.11" width="11.1" height="24.39" fill="#f26a1c" stroke="#222" stroke-width="0.6"/>
<line x1="335.75" y1="467.11" x2="335.75" y2="466.72" stroke="#222" stroke-width="0.8"/>
<line x1="333.25" y1="466.72" x2="338.25" y2="466.72" stroke="#222" stroke-width="0.8"/>
<text x="335.75" y="463.82" font-size="6.6" text-anchor="middle" font-weight="bold" fill="#1a1a1a" stroke="#1a1a1a" stroke-width="0.4" letter-spacing="0.8">**</text>
<rect x="346.5" y="453.15" width="11.2" height="38.35" fill="#707070" stroke="#222" stroke-width="0.6"/>
<line x1="352.1" y1="453.15" x2="352.1" y2="452.76" stroke="#222" stroke-width="0.8"/>
<line x1="349.58" y1="452.76" x2="354.62" y2="452.76" stroke="#222" stroke-width="0.8"/>
<text x="352.1" y="449.86" font-size="6.6" text-anchor="middle" font-weight="bold" fill="#1a1a1a" stroke="#1a1a1a" stroke-width="0.4" letter-spacing="0.8">**</text>
<line x1="306.5" y1="432.5" x2="306.5" y2="491.95" stroke="#3a3a3a" stroke-width="0.9"/>
<line x1="304.9" y1="432.5" x2="306.5" y2="432.5" stroke="#3a3a3a" stroke-width="0.9"/>
<text x="303.9" y="434.84" font-size="6.5" text-anchor="end" fill="#222" stroke="#222" stroke-width="0.16">1,500</text>
<line x1="304.9" y1="452.17" x2="306.5" y2="452.17" stroke="#3a3a3a" stroke-width="0.9"/>
<text x="303.9" y="454.51" font-size="6.5" text-anchor="end" fill="#222" stroke="#222" stroke-width="0.16">1,000</text>
<line x1="304.9" y1="471.83" x2="306.5" y2="471.83" stroke="#3a3a3a" stroke-width="0.9"/>
<text x="303.9" y="474.17" font-size="6.5" text-anchor="end" fill="#222" stroke="#222" stroke-width="0.16">500</text>
<line x1="304.9" y1="491.5" x2="306.5" y2="491.5" stroke="#3a3a3a" stroke-width="0.9"/>
<text x="303.9" y="493.84" font-size="6.5" text-anchor="end" fill="#222" stroke="#222" stroke-width="0.16">0</text>
<line x1="306.05" y1="491.5" x2="362" y2="491.5" stroke="#3a3a3a" stroke-width="0.9"/>
<line x1="318.5" y1="491.5" x2="318.5" y2="493.1" stroke="#3a3a3a" stroke-width="0.9"/>
<line x1="335.75" y1="491.5" x2="335.75" y2="493.1" stroke="#3a3a3a" stroke-width="0.9"/>
<line x1="352.1" y1="491.5" x2="352.1" y2="493.1" stroke="#3a3a3a" stroke-width="0.9"/>
<rect x="309.4" y="413.7" width="7.2" height="5.4" fill="#2c5a9a" stroke="#333" stroke-width="0.5"/>
<text x="321.2" y="418.7" font-size="6.7" fill="#222" stroke="#222" stroke-width="0.16" textLength="30.5" lengthAdjust="spacingAndGlyphs">pGL3-basic</text>
<rect x="309.4" y="421.5" width="7.2" height="5.4" fill="#f26a1c" stroke="#333" stroke-width="0.5"/>
<text x="321.2" y="426.5" font-size="6.7" fill="#222" stroke="#222" stroke-width="0.16" textLength="77" lengthAdjust="spacingAndGlyphs">pGL3-NAMPT-AS-Promoter</text>
<rect x="309.4" y="429.3" width="7.2" height="5.4" fill="#707070" stroke="#333" stroke-width="0.5"/>
<text x="321.2" y="434.3" font-size="6.7" fill="#222" stroke="#222" stroke-width="0.16" textLength="66.5" lengthAdjust="spacingAndGlyphs">pGL3-NAMPT-Promoter</text>
<text x="285.2" y="460.2" font-size="6.6" text-anchor="middle" fill="#222" stroke="#222" stroke-width="0.16" transform="rotate(-90 285.2 460.2)" textLength="68.5" lengthAdjust="spacingAndGlyphs">Relative luciferase activity</text>
<text x="346.7" y="539.8" font-size="6.8" text-anchor="middle" fill="#222" stroke="#222" stroke-width="0.16">MDA-MB-231</text>
<text x="320.3" y="500.8" font-size="6.3" text-anchor="end" fill="#222" stroke="#222" stroke-width="0.16" transform="rotate(-45 320.3 500.8)" textLength="29" lengthAdjust="spacingAndGlyphs">pGL3-basic</text>
<text x="336.8" y="501.5" font-size="6.3" text-anchor="end" fill="#222" stroke="#222" stroke-width="0.16" transform="rotate(-45 336.8 501.5)" textLength="74" lengthAdjust="spacingAndGlyphs">pGL3-NAMPT-AS-Promoter</text>
<text x="353.4" y="501.5" font-size="6.3" text-anchor="end" fill="#222" stroke="#222" stroke-width="0.16" transform="rotate(-45 353.4 501.5)" textLength="65" lengthAdjust="spacingAndGlyphs">pGL3-NAMPT-Promoter</text>
<rect x="429.8" y="487.18" width="11.5" height="3.82" fill="#2c5a9a" stroke="#222" stroke-width="0.6"/>
<line x1="435.55" y1="487.18" x2="435.55" y2="486.89" stroke="#222" stroke-width="0.8"/>
<line x1="432.96" y1="486.89" x2="438.14" y2="486.89" stroke="#222" stroke-width="0.8"/>
<rect x="446.7" y="468.11" width="11" height="22.89" fill="#f26a1c" stroke="#222" stroke-width="0.6"/>
<line x1="452.2" y1="468.11" x2="452.2" y2="467.23" stroke="#222" stroke-width="0.8"/>
<line x1="449.72" y1="467.23" x2="454.68" y2="467.23" stroke="#222" stroke-width="0.8"/>
<text x="452.2" y="464.33" font-size="6.6" text-anchor="middle" font-weight="bold" fill="#1a1a1a" stroke="#1a1a1a" stroke-width="0.4" letter-spacing="0.8">**</text>
<rect x="463.5" y="447.56" width="11.1" height="43.44" fill="#707070" stroke="#222" stroke-width="0.6"/>
<line x1="469.05" y1="447.56" x2="469.05" y2="446.68" stroke="#222" stroke-width="0.8"/>
<line x1="466.55" y1="446.68" x2="471.55" y2="446.68" stroke="#222" stroke-width="0.8"/>
<text x="469.05" y="443.78" font-size="6.6" text-anchor="middle" font-weight="bold" fill="#1a1a1a" stroke="#1a1a1a" stroke-width="0.4" letter-spacing="0.8">**</text>
<line x1="423.5" y1="432.3" x2="423.5" y2="491.45" stroke="#3a3a3a" stroke-width="0.9"/>
<line x1="421.9" y1="432.3" x2="423.5" y2="432.3" stroke="#3a3a3a" stroke-width="0.9"/>
<text x="420.9" y="434.64" font-size="6.5" text-anchor="end" fill="#222" stroke="#222" stroke-width="0.16">20</text>
<line x1="421.9" y1="446.98" x2="423.5" y2="446.98" stroke="#3a3a3a" stroke-width="0.9"/>
<text x="420.9" y="449.31" font-size="6.5" text-anchor="end" fill="#222" stroke="#222" stroke-width="0.16">15</text>
<line x1="421.9" y1="461.65" x2="423.5" y2="461.65" stroke="#3a3a3a" stroke-width="0.9"/>
<text x="420.9" y="463.99" font-size="6.5" text-anchor="end" fill="#222" stroke="#222" stroke-width="0.16">10</text>
<line x1="421.9" y1="476.32" x2="423.5" y2="476.32" stroke="#3a3a3a" stroke-width="0.9"/>
<text x="420.9" y="478.66" font-size="6.5" text-anchor="end" fill="#222" stroke="#222" stroke-width="0.16">5</text>
<line x1="421.9" y1="491" x2="423.5" y2="491" stroke="#3a3a3a" stroke-width="0.9"/>
<text x="420.9" y="493.34" font-size="6.5" text-anchor="end" fill="#222" stroke="#222" stroke-width="0.16">0</text>
<line x1="423.05" y1="491.5" x2="478" y2="491.5" stroke="#3a3a3a" stroke-width="0.9"/>
<line x1="435.55" y1="491.5" x2="435.55" y2="493.1" stroke="#3a3a3a" stroke-width="0.9"/>
<line x1="452.2" y1="491.5" x2="452.2" y2="493.1" stroke="#3a3a3a" stroke-width="0.9"/>
<line x1="469.05" y1="491.5" x2="469.05" y2="493.1" stroke="#3a3a3a" stroke-width="0.9"/>
<rect x="425.7" y="413.7" width="7.2" height="5.4" fill="#2c5a9a" stroke="#333" stroke-width="0.5"/>
<text x="437.5" y="418.7" font-size="6.7" fill="#222" stroke="#222" stroke-width="0.16" textLength="30.5" lengthAdjust="spacingAndGlyphs">pGL3-basic</text>
<rect x="425.7" y="421.5" width="7.2" height="5.4" fill="#f26a1c" stroke="#333" stroke-width="0.5"/>
<text x="437.5" y="426.5" font-size="6.7" fill="#222" stroke="#222" stroke-width="0.16" textLength="77" lengthAdjust="spacingAndGlyphs">pGL3-NAMPT-AS-Promoter</text>
<rect x="425.7" y="429.3" width="7.2" height="5.4" fill="#707070" stroke="#333" stroke-width="0.5"/>
<text x="437.5" y="434.3" font-size="6.7" fill="#222" stroke="#222" stroke-width="0.16" textLength="66.5" lengthAdjust="spacingAndGlyphs">pGL3-NAMPT-Promoter</text>
<text x="411.8" y="460.2" font-size="6.6" text-anchor="middle" fill="#222" stroke="#222" stroke-width="0.16" transform="rotate(-90 411.8 460.2)" textLength="68.5" lengthAdjust="spacingAndGlyphs">Relative luciferase activity</text>
<text x="470.5" y="539.8" font-size="6.8" text-anchor="middle" fill="#222" stroke="#222" stroke-width="0.16">MDA-MB-468</text>
<text x="437" y="498.6" font-size="6.3" text-anchor="end" fill="#222" stroke="#222" stroke-width="0.16" transform="rotate(-45 437 498.6)" textLength="29" lengthAdjust="spacingAndGlyphs">pGL3-basic</text>
<text x="454" y="499.5" font-size="6.3" text-anchor="end" fill="#222" stroke="#222" stroke-width="0.16" transform="rotate(-45 454 499.5)" textLength="74" lengthAdjust="spacingAndGlyphs">pGL3-NAMPT-AS-Promoter</text>
<text x="470.5" y="499.5" font-size="6.3" text-anchor="end" fill="#222" stroke="#222" stroke-width="0.16" transform="rotate(-45 470.5 499.5)" textLength="65" lengthAdjust="spacingAndGlyphs">pGL3-NAMPT-Promoter</text></svg></body></html>
